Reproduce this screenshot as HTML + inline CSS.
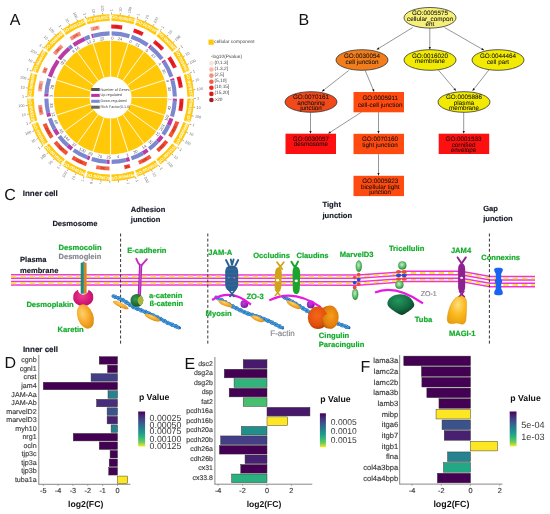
<!DOCTYPE html>
<html><head><meta charset="utf-8"><title>Figure</title><style>
*{margin:0;padding:0}
html,body{width:550px;height:514px;background:#fff;overflow:hidden}
svg{display:block}
text{font-family:"Liberation Sans",Arial,sans-serif;text-rendering:geometricPrecision}
.lab{font-size:16px;fill:#111}
.t3{font-size:4px}
.t3k{font-size:3.8px;fill:#707070}
.t3r{font-size:3.1px;fill:#a01818}
.t3n{font-size:4.2px;fill:#444}
.t3w{font-size:4.3px;fill:#fff;font-weight:bold}
.t4{font-size:3.7px}
.t45{font-size:4.8px}
.go{font-size:6.3px;fill:#111;stroke:#111;stroke-width:0.05px}
.hd{font-size:7.6px;font-weight:bold;fill:#161a26;stroke:#161a26;stroke-width:0.15px}
.gr{font-size:7.6px;font-weight:bold;fill:#14ac2c;stroke:#14ac2c;stroke-width:0.2px}
.gy{font-size:8px;fill:#85858f;stroke:#85858f;stroke-width:0.15px}
.gl{font-size:7px;fill:#3a3a3a;stroke:#3a3a3a;stroke-width:0.15px}
.ax{font-size:8.7px;font-weight:bold;fill:#111}
.lg{font-size:8.7px;fill:#3a3a3a}
</style></head>
<body><svg width="550" height="514" viewBox="0 0 550 514">
<defs><clipPath id="clipA"><rect x="0" y="0" width="275" height="184"/></clipPath></defs><g clip-path="url(#clipA)">
<circle cx="110.6" cy="97.6" r="56.8" fill="#ffc808"/>
<line x1="110.60" y1="76.60" x2="110.60" y2="40.30" stroke="#fff" stroke-width="0.9"/>
<line x1="117.09" y1="77.63" x2="128.31" y2="43.10" stroke="#fff" stroke-width="0.9"/>
<line x1="122.94" y1="80.61" x2="144.28" y2="51.24" stroke="#fff" stroke-width="0.9"/>
<line x1="127.59" y1="85.26" x2="156.96" y2="63.92" stroke="#fff" stroke-width="0.9"/>
<line x1="130.57" y1="91.11" x2="165.10" y2="79.89" stroke="#fff" stroke-width="0.9"/>
<line x1="131.60" y1="97.60" x2="167.90" y2="97.60" stroke="#fff" stroke-width="0.9"/>
<line x1="130.57" y1="104.09" x2="165.10" y2="115.31" stroke="#fff" stroke-width="0.9"/>
<line x1="127.59" y1="109.94" x2="156.96" y2="131.28" stroke="#fff" stroke-width="0.9"/>
<line x1="122.94" y1="114.59" x2="144.28" y2="143.96" stroke="#fff" stroke-width="0.9"/>
<line x1="117.09" y1="117.57" x2="128.31" y2="152.10" stroke="#fff" stroke-width="0.9"/>
<line x1="110.60" y1="118.60" x2="110.60" y2="154.90" stroke="#fff" stroke-width="0.9"/>
<line x1="104.11" y1="117.57" x2="92.89" y2="152.10" stroke="#fff" stroke-width="0.9"/>
<line x1="98.26" y1="114.59" x2="76.92" y2="143.96" stroke="#fff" stroke-width="0.9"/>
<line x1="93.61" y1="109.94" x2="64.24" y2="131.28" stroke="#fff" stroke-width="0.9"/>
<line x1="90.63" y1="104.09" x2="56.10" y2="115.31" stroke="#fff" stroke-width="0.9"/>
<line x1="89.60" y1="97.60" x2="53.30" y2="97.60" stroke="#fff" stroke-width="0.9"/>
<line x1="90.63" y1="91.11" x2="56.10" y2="79.89" stroke="#fff" stroke-width="0.9"/>
<line x1="93.61" y1="85.26" x2="64.24" y2="63.92" stroke="#fff" stroke-width="0.9"/>
<line x1="98.26" y1="80.61" x2="76.92" y2="51.24" stroke="#fff" stroke-width="0.9"/>
<line x1="104.11" y1="77.63" x2="92.89" y2="43.10" stroke="#fff" stroke-width="0.9"/>
<circle cx="110.6" cy="97.6" r="21.0" fill="#fff"/>
<path d="M111.47,14.20A83.4,83.4 0 0 1 135.54,18.02L133.57,24.31A76.8,76.8 0 0 0 111.40,20.80Z" fill="#ffc808"/>
<path d="M111.64,31.31A66.3,66.3 0 0 1 130.09,34.23L128.89,38.15A62.2,62.2 0 0 0 111.58,35.41Z" fill="#7b87cf"/>
<path d="M111.29,24.60A73.0,73.0 0 0 1 122.47,25.57L121.82,29.52A69.0,69.0 0 0 0 111.25,28.60Z" fill="#f01e26"/>
<text x="116.73" y="26.86" transform="rotate(5.0 116.73 26.86)" class="t3r" text-anchor="middle" dominant-baseline="central">286</text>
<text x="123.13" y="18.49" transform="rotate(9.0 123.13 18.49)" class="t3w" text-anchor="middle" dominant-baseline="central">GO:0005911</text>
<text x="112.38" y="38.13" transform="rotate(1.7 112.38 38.13)" class="t3" fill="#555" text-anchor="middle" dominant-baseline="central">0</text>
<text x="119.91" y="38.83" transform="rotate(9.0 119.91 38.83)" class="t3" fill="#555" text-anchor="middle" dominant-baseline="central">24</text>
<line x1="111.47" y1="14.20" x2="111.49" y2="12.40" stroke="#555" stroke-width="0.5"/>
<text x="111.50" y="11.20" transform="rotate(-89.4 111.50 11.20)" class="t3k" text-anchor="start" dominant-baseline="central">1</text>
<line x1="120.19" y1="14.75" x2="120.39" y2="12.96" stroke="#555" stroke-width="0.5"/>
<text x="120.53" y="11.77" transform="rotate(-83.4 120.53 11.77)" class="t3k" text-anchor="start" dominant-baseline="central">10</text>
<line x1="128.79" y1="16.21" x2="129.19" y2="14.45" stroke="#555" stroke-width="0.5"/>
<text x="129.45" y="13.28" transform="rotate(-77.4 129.45 13.28)" class="t3k" text-anchor="start" dominant-baseline="central">100</text>
<path d="M137.20,18.56A83.4,83.4 0 0 1 158.91,29.62L155.09,35.00A76.8,76.8 0 0 0 135.10,24.81Z" fill="#ffc808"/>
<path d="M132.08,34.87A66.3,66.3 0 0 1 148.72,43.36L146.37,46.71A62.2,62.2 0 0 0 130.75,38.75Z" fill="#7b87cf"/>
<path d="M134.25,28.54A73.0,73.0 0 0 1 143.74,32.56L141.93,36.12A69.0,69.0 0 0 0 132.95,32.32Z" fill="#f01e26"/>
<text x="138.28" y="32.22" transform="rotate(22.9 138.28 32.22)" class="t3r" text-anchor="middle" dominant-baseline="central">372</text>
<text x="146.96" y="26.23" transform="rotate(27.0 146.96 26.23)" class="t3w" text-anchor="middle" dominant-baseline="central">GO:0070160</text>
<text x="130.67" y="41.59" transform="rotate(19.7 130.67 41.59)" class="t3" fill="#555" text-anchor="middle" dominant-baseline="central">0</text>
<text x="137.61" y="44.59" transform="rotate(27.0 137.61 44.59)" class="t3" fill="#555" text-anchor="middle" dominant-baseline="central">21</text>
<line x1="137.20" y1="18.56" x2="137.78" y2="16.85" stroke="#555" stroke-width="0.5"/>
<text x="138.16" y="15.71" transform="rotate(-71.4 138.16 15.71)" class="t3k" text-anchor="start" dominant-baseline="central">1</text>
<line x1="145.32" y1="21.77" x2="146.07" y2="20.13" stroke="#555" stroke-width="0.5"/>
<text x="146.57" y="19.04" transform="rotate(-65.4 146.57 19.04)" class="t3k" text-anchor="start" dominant-baseline="central">10</text>
<line x1="153.05" y1="25.81" x2="153.97" y2="24.26" stroke="#555" stroke-width="0.5"/>
<text x="154.58" y="23.23" transform="rotate(-59.4 154.58 23.23)" class="t3k" text-anchor="start" dominant-baseline="central">100</text>
<path d="M160.33,30.65A83.4,83.4 0 0 1 177.55,47.87L172.26,51.81A76.8,76.8 0 0 0 156.39,35.94Z" fill="#ffc808"/>
<path d="M150.41,44.58A66.3,66.3 0 0 1 151.89,45.73L149.34,48.94A62.2,62.2 0 0 0 147.95,47.86Z" fill="#bb3aa4"/>
<path d="M151.89,45.73A66.3,66.3 0 0 1 163.62,57.79L160.34,60.25A62.2,62.2 0 0 0 149.34,48.94Z" fill="#7b87cf"/>
<path d="M155.34,39.92A73.0,73.0 0 0 1 164.13,47.96L161.19,50.68A69.0,69.0 0 0 0 152.89,43.08Z" fill="#f01e26"/>
<text x="158.55" y="45.24" transform="rotate(42.5 158.55 45.24)" class="t3r" text-anchor="middle" dominant-baseline="central">1032</text>
<text x="167.24" y="40.96" transform="rotate(45.0 167.24 40.96)" class="t3w" text-anchor="middle" dominant-baseline="central">GO:0005923</text>
<text x="146.99" y="50.53" transform="rotate(37.7 146.99 50.53)" class="t3" fill="#555" text-anchor="middle" dominant-baseline="central">5</text>
<text x="153.26" y="56.13" transform="rotate(45.8 153.26 56.13)" class="t3" fill="#555" text-anchor="middle" dominant-baseline="central">47</text>
<line x1="160.33" y1="30.65" x2="161.40" y2="29.20" stroke="#555" stroke-width="0.5"/>
<text x="162.11" y="28.24" transform="rotate(-53.4 162.11 28.24)" class="t3k" text-anchor="start" dominant-baseline="central">1</text>
<line x1="167.05" y1="36.21" x2="168.27" y2="34.88" stroke="#555" stroke-width="0.5"/>
<text x="169.08" y="34.00" transform="rotate(-47.4 169.08 34.00)" class="t3k" text-anchor="start" dominant-baseline="central">10</text>
<line x1="173.16" y1="42.45" x2="174.51" y2="41.26" stroke="#555" stroke-width="0.5"/>
<text x="175.41" y="40.46" transform="rotate(-41.4 175.41 40.46)" class="t3k" text-anchor="start" dominant-baseline="central">100</text>
<path d="M178.58,49.29A83.4,83.4 0 0 1 189.64,71.00L183.39,73.10A76.8,76.8 0 0 0 173.20,53.11Z" fill="#ffc808"/>
<path d="M164.84,59.48A66.3,66.3 0 0 1 165.90,61.03L162.48,63.29A62.2,62.2 0 0 0 161.49,61.83Z" fill="#bb3aa4"/>
<path d="M165.90,61.03A66.3,66.3 0 0 1 173.33,76.12L169.45,77.45A62.2,62.2 0 0 0 162.48,63.29Z" fill="#7b87cf"/>
<path d="M170.72,56.19A73.0,73.0 0 0 1 176.85,66.93L173.22,68.61A69.0,69.0 0 0 0 167.42,58.46Z" fill="#f01e26"/>
<text x="172.27" y="62.42" transform="rotate(60.3 172.27 62.42)" class="t3r" text-anchor="middle" dominant-baseline="central">334</text>
<text x="181.97" y="61.24" transform="rotate(63.0 181.97 61.24)" class="t3w" text-anchor="middle" dominant-baseline="central">GO:0030057</text>
<text x="159.76" y="64.08" transform="rotate(55.7 159.76 64.08)" class="t3" fill="#555" text-anchor="middle" dominant-baseline="central">4</text>
<text x="163.99" y="71.34" transform="rotate(63.8 163.99 71.34)" class="t3" fill="#555" text-anchor="middle" dominant-baseline="central">30</text>
<line x1="178.58" y1="49.29" x2="180.05" y2="48.25" stroke="#555" stroke-width="0.5"/>
<text x="181.03" y="47.55" transform="rotate(-35.4 181.03 47.55)" class="t3k" text-anchor="start" dominant-baseline="central">1</text>
<line x1="183.26" y1="56.66" x2="184.83" y2="55.78" stroke="#555" stroke-width="0.5"/>
<text x="185.87" y="55.19" transform="rotate(-29.4 185.87 55.19)" class="t3k" text-anchor="start" dominant-baseline="central">10</text>
<line x1="187.14" y1="64.48" x2="188.79" y2="63.76" stroke="#555" stroke-width="0.5"/>
<text x="189.89" y="63.29" transform="rotate(-23.4 189.89 63.29)" class="t3k" text-anchor="start" dominant-baseline="central">100</text>
<path d="M190.18,72.66A83.4,83.4 0 0 1 194.00,96.73L187.40,96.80A76.8,76.8 0 0 0 183.89,74.63Z" fill="#ffc808"/>
<path d="M173.97,78.11A66.3,66.3 0 0 1 174.49,79.90L170.54,81.00A62.2,62.2 0 0 0 170.05,79.31Z" fill="#bb3aa4"/>
<path d="M174.49,79.90A66.3,66.3 0 0 1 176.89,96.56L172.79,96.62A62.2,62.2 0 0 0 170.54,81.00Z" fill="#7b87cf"/>
<path d="M180.37,76.14A73.0,73.0 0 0 1 182.87,87.31L178.91,87.88A69.0,69.0 0 0 0 176.55,77.31Z" fill="#f01e26"/>
<text x="179.89" y="82.11" transform="rotate(77.4 179.89 82.11)" class="t3r" text-anchor="middle" dominant-baseline="central">255</text>
<text x="189.71" y="85.07" transform="rotate(81.0 189.71 85.07)" class="t3w" text-anchor="middle" dominant-baseline="central">GO:0070161</text>
<text x="167.71" y="80.91" transform="rotate(73.7 167.71 80.91)" class="t3" fill="#555" text-anchor="middle" dominant-baseline="central">4</text>
<text x="169.49" y="89.12" transform="rotate(81.8 169.49 89.12)" class="t3" fill="#555" text-anchor="middle" dominant-baseline="central">30</text>
<line x1="190.18" y1="72.66" x2="191.90" y2="72.12" stroke="#555" stroke-width="0.5"/>
<text x="193.05" y="71.76" transform="rotate(-17.4 193.05 71.76)" class="t3k" text-anchor="start" dominant-baseline="central">1</text>
<line x1="192.35" y1="81.12" x2="194.12" y2="80.76" stroke="#555" stroke-width="0.5"/>
<text x="195.30" y="80.52" transform="rotate(-11.4 195.30 80.52)" class="t3k" text-anchor="start" dominant-baseline="central">10</text>
<line x1="193.63" y1="89.75" x2="195.42" y2="89.58" stroke="#555" stroke-width="0.5"/>
<text x="196.62" y="89.47" transform="rotate(-5.4 196.62 89.47)" class="t3k" text-anchor="start" dominant-baseline="central">100</text>
<path d="M194.00,98.47A83.4,83.4 0 0 1 190.18,122.54L183.89,120.57A76.8,76.8 0 0 0 187.40,98.40Z" fill="#ffc808"/>
<path d="M176.89,98.64A66.3,66.3 0 0 1 176.82,100.89L172.72,100.69A62.2,62.2 0 0 0 172.79,98.58Z" fill="#bb3aa4"/>
<path d="M176.82,100.89A66.3,66.3 0 0 1 173.97,117.09L170.05,115.89A62.2,62.2 0 0 0 172.72,100.69Z" fill="#7b87cf"/>
<path d="M183.59,98.75A73.0,73.0 0 0 1 182.31,111.28L178.38,110.53A69.0,69.0 0 0 0 179.59,98.68Z" fill="#f01e26"/>
<text x="181.23" y="104.84" transform="rotate(275.9 181.23 104.84)" class="t3r" text-anchor="middle" dominant-baseline="central">315</text>
<text x="189.71" y="110.13" transform="rotate(279.0 189.71 110.13)" class="t3w" text-anchor="middle" dominant-baseline="central">GO:0030054</text>
<text x="170.07" y="99.38" transform="rotate(271.7 170.07 99.38)" class="t3" fill="#555" text-anchor="middle" dominant-baseline="central">7</text>
<text x="169.20" y="107.90" transform="rotate(280.0 169.20 107.90)" class="t3" fill="#555" text-anchor="middle" dominant-baseline="central">42</text>
<line x1="194.00" y1="98.47" x2="195.80" y2="98.49" stroke="#555" stroke-width="0.5"/>
<text x="197.00" y="98.50" transform="rotate(0.6 197.00 98.50)" class="t3k" text-anchor="start" dominant-baseline="central">1</text>
<line x1="193.45" y1="107.19" x2="195.24" y2="107.39" stroke="#555" stroke-width="0.5"/>
<text x="196.43" y="107.53" transform="rotate(6.6 196.43 107.53)" class="t3k" text-anchor="start" dominant-baseline="central">10</text>
<line x1="191.99" y1="115.79" x2="193.75" y2="116.19" stroke="#555" stroke-width="0.5"/>
<text x="194.92" y="116.45" transform="rotate(12.6 194.92 116.45)" class="t3k" text-anchor="start" dominant-baseline="central">100</text>
<path d="M189.64,124.20A83.4,83.4 0 0 1 178.58,145.91L173.20,142.09A76.8,76.8 0 0 0 183.39,122.10Z" fill="#ffc808"/>
<path d="M173.33,119.08A66.3,66.3 0 0 1 170.50,126.02L166.80,124.26A62.2,62.2 0 0 0 169.45,117.75Z" fill="#bb3aa4"/>
<path d="M170.50,126.02A66.3,66.3 0 0 1 164.84,135.72L161.49,133.37A62.2,62.2 0 0 0 166.80,124.26Z" fill="#7b87cf"/>
<path d="M179.28,122.33A73.0,73.0 0 0 1 171.61,137.68L168.27,135.48A69.0,69.0 0 0 0 175.52,120.97Z" fill="#f25436"/>
<text x="174.11" y="129.34" transform="rotate(296.6 174.11 129.34)" class="t3r" text-anchor="middle" dominant-baseline="central">4526</text>
<text x="181.97" y="133.96" transform="rotate(297.0 181.97 133.96)" class="t3w" text-anchor="middle" dominant-baseline="central">GO:0005886</text>
<text x="166.61" y="117.67" transform="rotate(289.7 166.61 117.67)" class="t3" fill="#555" text-anchor="middle" dominant-baseline="central">102</text>
<text x="162.00" y="127.57" transform="rotate(300.2 162.00 127.57)" class="t3" fill="#555" text-anchor="middle" dominant-baseline="central">203</text>
<line x1="189.64" y1="124.20" x2="191.35" y2="124.78" stroke="#555" stroke-width="0.5"/>
<text x="192.49" y="125.16" transform="rotate(18.6 192.49 125.16)" class="t3k" text-anchor="start" dominant-baseline="central">1</text>
<line x1="186.43" y1="132.32" x2="188.07" y2="133.07" stroke="#555" stroke-width="0.5"/>
<text x="189.16" y="133.57" transform="rotate(24.6 189.16 133.57)" class="t3k" text-anchor="start" dominant-baseline="central">10</text>
<line x1="182.39" y1="140.05" x2="183.94" y2="140.97" stroke="#555" stroke-width="0.5"/>
<text x="184.97" y="141.58" transform="rotate(30.6 184.97 141.58)" class="t3k" text-anchor="start" dominant-baseline="central">100</text>
<path d="M177.55,147.33A83.4,83.4 0 0 1 160.33,164.55L156.39,159.26A76.8,76.8 0 0 0 172.26,143.39Z" fill="#ffc808"/>
<path d="M163.62,137.41A66.3,66.3 0 0 1 159.04,142.86L156.05,140.06A62.2,62.2 0 0 0 160.34,134.95Z" fill="#bb3aa4"/>
<path d="M159.04,142.86A66.3,66.3 0 0 1 150.41,150.62L147.95,147.34A62.2,62.2 0 0 0 156.05,140.06Z" fill="#7b87cf"/>
<path d="M168.28,142.34A73.0,73.0 0 0 1 158.88,152.36L156.23,149.36A69.0,69.0 0 0 0 165.12,139.89Z" fill="#f04a30"/>
<text x="162.36" y="146.20" transform="rotate(313.2 162.36 146.20)" class="t3r" text-anchor="middle" dominant-baseline="central">812</text>
<text x="167.24" y="154.24" transform="rotate(315.0 167.24 154.24)" class="t3w" text-anchor="middle" dominant-baseline="central">GO:0001533</text>
<text x="157.67" y="133.99" transform="rotate(307.7 157.67 133.99)" class="t3" fill="#555" text-anchor="middle" dominant-baseline="central">15</text>
<text x="150.35" y="141.87" transform="rotate(318.1 150.35 141.87)" class="t3" fill="#555" text-anchor="middle" dominant-baseline="central">15</text>
<line x1="177.55" y1="147.33" x2="179.00" y2="148.40" stroke="#555" stroke-width="0.5"/>
<text x="179.96" y="149.11" transform="rotate(36.6 179.96 149.11)" class="t3k" text-anchor="start" dominant-baseline="central">1</text>
<line x1="171.99" y1="154.05" x2="173.32" y2="155.27" stroke="#555" stroke-width="0.5"/>
<text x="174.20" y="156.08" transform="rotate(42.6 174.20 156.08)" class="t3k" text-anchor="start" dominant-baseline="central">10</text>
<line x1="165.75" y1="160.16" x2="166.94" y2="161.51" stroke="#555" stroke-width="0.5"/>
<text x="167.74" y="162.41" transform="rotate(48.6 167.74 162.41)" class="t3k" text-anchor="start" dominant-baseline="central">100</text>
<path d="M158.91,165.58A83.4,83.4 0 0 1 137.20,176.64L135.10,170.39A76.8,76.8 0 0 0 155.09,160.20Z" fill="#ffc808"/>
<path d="M148.72,151.84A66.3,66.3 0 0 1 143.99,154.88L141.93,151.34A62.2,62.2 0 0 0 146.37,148.49Z" fill="#bb3aa4"/>
<path d="M143.99,154.88A66.3,66.3 0 0 1 132.08,160.33L130.75,156.45A62.2,62.2 0 0 0 141.93,151.34Z" fill="#7b87cf"/>
<path d="M151.63,157.98A73.0,73.0 0 0 1 139.59,164.60L138.00,160.93A69.0,69.0 0 0 0 149.38,154.67Z" fill="#f25a3c"/>
<text x="144.80" y="159.82" transform="rotate(331.2 144.80 159.82)" class="t3r" text-anchor="middle" dominant-baseline="central">645</text>
<text x="146.96" y="168.97" transform="rotate(333.0 146.96 168.97)" class="t3w" text-anchor="middle" dominant-baseline="central">GO:0016020</text>
<text x="144.12" y="146.76" transform="rotate(325.7 144.12 146.76)" class="t3" fill="#555" text-anchor="middle" dominant-baseline="central">14</text>
<text x="135.34" y="151.71" transform="rotate(335.4 135.34 151.71)" class="t3" fill="#555" text-anchor="middle" dominant-baseline="central">30</text>
<line x1="158.91" y1="165.58" x2="159.95" y2="167.05" stroke="#555" stroke-width="0.5"/>
<text x="160.65" y="168.03" transform="rotate(54.6 160.65 168.03)" class="t3k" text-anchor="start" dominant-baseline="central">1</text>
<line x1="151.54" y1="170.26" x2="152.42" y2="171.83" stroke="#555" stroke-width="0.5"/>
<text x="153.01" y="172.87" transform="rotate(60.6 153.01 172.87)" class="t3k" text-anchor="start" dominant-baseline="central">10</text>
<line x1="143.72" y1="174.14" x2="144.44" y2="175.79" stroke="#555" stroke-width="0.5"/>
<text x="144.91" y="176.89" transform="rotate(66.6 144.91 176.89)" class="t3k" text-anchor="start" dominant-baseline="central">100</text>
<path d="M135.54,177.18A83.4,83.4 0 0 1 111.47,181.00L111.40,174.40A76.8,76.8 0 0 0 133.57,170.89Z" fill="#ffc808"/>
<path d="M130.09,160.97A66.3,66.3 0 0 1 126.48,161.97L125.50,157.99A62.2,62.2 0 0 0 128.89,157.05Z" fill="#bb3aa4"/>
<path d="M126.48,161.97A66.3,66.3 0 0 1 111.64,163.89L111.58,159.79A62.2,62.2 0 0 0 125.50,157.99Z" fill="#7b87cf"/>
<path d="M130.53,167.83A73.0,73.0 0 0 1 124.73,169.22L123.95,165.30A69.0,69.0 0 0 0 129.43,163.98Z" fill="#ef4a3a"/>
<text x="127.17" y="166.64" transform="rotate(346.5 127.17 166.64)" class="t3r" text-anchor="middle" dominant-baseline="central">16</text>
<text x="123.13" y="176.71" transform="rotate(351.0 123.13 176.71)" class="t3w" text-anchor="middle" dominant-baseline="central">GO:0044464</text>
<text x="127.29" y="154.71" transform="rotate(343.7 127.29 154.71)" class="t3" fill="#555" text-anchor="middle" dominant-baseline="central">1</text>
<text x="118.24" y="156.61" transform="rotate(352.6 118.24 156.61)" class="t3" fill="#555" text-anchor="middle" dominant-baseline="central">4</text>
<line x1="135.54" y1="177.18" x2="136.08" y2="178.90" stroke="#555" stroke-width="0.5"/>
<text x="136.44" y="180.05" transform="rotate(72.6 136.44 180.05)" class="t3k" text-anchor="start" dominant-baseline="central">1</text>
<line x1="127.08" y1="179.35" x2="127.44" y2="181.12" stroke="#555" stroke-width="0.5"/>
<text x="127.68" y="182.30" transform="rotate(78.6 127.68 182.30)" class="t3k" text-anchor="start" dominant-baseline="central">10</text>
<line x1="118.45" y1="180.63" x2="118.62" y2="182.42" stroke="#555" stroke-width="0.5"/>
<text x="118.73" y="183.62" transform="rotate(84.6 118.73 183.62)" class="t3k" text-anchor="start" dominant-baseline="central">100</text>
<path d="M109.73,181.00A83.4,83.4 0 0 1 85.66,177.18L87.63,170.89A76.8,76.8 0 0 0 109.80,174.40Z" fill="#ffc808"/>
<path d="M109.56,163.89A66.3,66.3 0 0 1 106.75,163.79L106.99,159.69A62.2,62.2 0 0 0 109.62,159.79Z" fill="#bb3aa4"/>
<path d="M106.75,163.79A66.3,66.3 0 0 1 91.11,160.97L92.31,157.05A62.2,62.2 0 0 0 106.99,159.69Z" fill="#7b87cf"/>
<path d="M109.45,170.59A73.0,73.0 0 0 1 95.80,169.08L96.61,165.17A69.0,69.0 0 0 0 109.52,166.59Z" fill="#f46a4c"/>
<text x="102.81" y="168.17" transform="rotate(366.3 102.81 168.17)" class="t3r" text-anchor="middle" dominant-baseline="central">390</text>
<text x="98.07" y="176.71" transform="rotate(369.0 98.07 176.71)" class="t3w" text-anchor="middle" dominant-baseline="central">GO:0005575</text>
<text x="108.82" y="157.07" transform="rotate(361.7 108.82 157.07)" class="t3" fill="#555" text-anchor="middle" dominant-baseline="central">25</text>
<text x="100.05" y="156.16" transform="rotate(370.2 100.05 156.16)" class="t3" fill="#555" text-anchor="middle" dominant-baseline="central">70</text>
<line x1="109.73" y1="181.00" x2="109.71" y2="182.80" stroke="#555" stroke-width="0.5"/>
<text x="109.70" y="184.00" transform="rotate(270.6 109.70 184.00)" class="t3k" text-anchor="end" dominant-baseline="central">1</text>
<line x1="101.01" y1="180.45" x2="100.81" y2="182.24" stroke="#555" stroke-width="0.5"/>
<text x="100.67" y="183.43" transform="rotate(276.6 100.67 183.43)" class="t3k" text-anchor="end" dominant-baseline="central">10</text>
<line x1="92.41" y1="178.99" x2="92.01" y2="180.75" stroke="#555" stroke-width="0.5"/>
<text x="91.75" y="181.92" transform="rotate(282.6 91.75 181.92)" class="t3k" text-anchor="end" dominant-baseline="central">100</text>
<path d="M84.00,176.64A83.4,83.4 0 0 1 62.29,165.58L66.11,160.20A76.8,76.8 0 0 0 86.10,170.39Z" fill="#ffc808"/>
<path d="M89.12,160.33A66.3,66.3 0 0 1 86.48,159.36L87.98,155.54A62.2,62.2 0 0 0 90.45,156.45Z" fill="#bb3aa4"/>
<path d="M86.48,159.36A66.3,66.3 0 0 1 72.48,151.84L74.83,148.49A62.2,62.2 0 0 0 87.98,155.54Z" fill="#7b87cf"/>
<path d="M85.87,166.28A73.0,73.0 0 0 1 71.48,159.24L73.63,155.86A69.0,69.0 0 0 0 87.23,162.52Z" fill="#f25436"/>
<text x="79.36" y="161.36" transform="rotate(386.1 79.36 161.36)" class="t3r" text-anchor="middle" dominant-baseline="central">1533</text>
<text x="74.24" y="168.97" transform="rotate(387.0 74.24 168.97)" class="t3w" text-anchor="middle" dominant-baseline="central">GO:0043296</text>
<text x="90.53" y="153.61" transform="rotate(379.7 90.53 153.61)" class="t3" fill="#555" text-anchor="middle" dominant-baseline="central">29</text>
<text x="82.47" y="150.03" transform="rotate(388.2 82.47 150.03)" class="t3" fill="#555" text-anchor="middle" dominant-baseline="central">120</text>
<line x1="84.00" y1="176.64" x2="83.42" y2="178.35" stroke="#555" stroke-width="0.5"/>
<text x="83.04" y="179.49" transform="rotate(288.6 83.04 179.49)" class="t3k" text-anchor="end" dominant-baseline="central">1</text>
<line x1="75.88" y1="173.43" x2="75.13" y2="175.07" stroke="#555" stroke-width="0.5"/>
<text x="74.63" y="176.16" transform="rotate(294.6 74.63 176.16)" class="t3k" text-anchor="end" dominant-baseline="central">10</text>
<line x1="68.15" y1="169.39" x2="67.23" y2="170.94" stroke="#555" stroke-width="0.5"/>
<text x="66.62" y="171.97" transform="rotate(300.6 66.62 171.97)" class="t3k" text-anchor="end" dominant-baseline="central">100</text>
<path d="M60.87,164.55A83.4,83.4 0 0 1 43.65,147.33L48.94,143.39A76.8,76.8 0 0 0 64.81,159.26Z" fill="#ffc808"/>
<path d="M70.79,150.62A66.3,66.3 0 0 1 66.44,147.06L69.17,144.00A62.2,62.2 0 0 0 73.25,147.34Z" fill="#bb3aa4"/>
<path d="M66.44,147.06A66.3,66.3 0 0 1 57.58,137.41L60.86,134.95A62.2,62.2 0 0 0 69.17,144.00Z" fill="#7b87cf"/>
<path d="M65.86,155.28A73.0,73.0 0 0 1 53.63,143.24L56.75,140.74A69.0,69.0 0 0 0 68.31,152.12Z" fill="#f25436"/>
<text x="60.79" y="148.20" transform="rotate(404.6 60.79 148.20)" class="t3r" text-anchor="middle" dominant-baseline="central">2687</text>
<text x="53.96" y="154.24" transform="rotate(405.0 53.96 154.24)" class="t3w" text-anchor="middle" dominant-baseline="central">GO:0016327</text>
<text x="74.21" y="144.67" transform="rotate(397.7 74.21 144.67)" class="t3" fill="#555" text-anchor="middle" dominant-baseline="central">37</text>
<text x="66.78" y="137.85" transform="rotate(407.4 66.78 137.85)" class="t3" fill="#555" text-anchor="middle" dominant-baseline="central">144</text>
<line x1="60.87" y1="164.55" x2="59.80" y2="166.00" stroke="#555" stroke-width="0.5"/>
<text x="59.09" y="166.96" transform="rotate(306.6 59.09 166.96)" class="t3k" text-anchor="end" dominant-baseline="central">1</text>
<line x1="54.15" y1="158.99" x2="52.93" y2="160.32" stroke="#555" stroke-width="0.5"/>
<text x="52.12" y="161.20" transform="rotate(312.6 52.12 161.20)" class="t3k" text-anchor="end" dominant-baseline="central">10</text>
<line x1="48.04" y1="152.75" x2="46.69" y2="153.94" stroke="#555" stroke-width="0.5"/>
<text x="45.79" y="154.74" transform="rotate(318.6 45.79 154.74)" class="t3k" text-anchor="end" dominant-baseline="central">100</text>
<path d="M42.62,145.91A83.4,83.4 0 0 1 31.56,124.20L37.81,122.10A76.8,76.8 0 0 0 48.00,142.09Z" fill="#ffc808"/>
<path d="M56.36,135.72A66.3,66.3 0 0 1 52.86,130.18L56.43,128.16A62.2,62.2 0 0 0 59.71,133.37Z" fill="#bb3aa4"/>
<path d="M52.86,130.18A66.3,66.3 0 0 1 47.87,119.08L51.75,117.75A62.2,62.2 0 0 0 56.43,128.16Z" fill="#7b87cf"/>
<path d="M50.22,138.63A73.0,73.0 0 0 1 42.73,124.47L46.45,123.00A69.0,69.0 0 0 0 53.53,136.38Z" fill="#f25436"/>
<text x="47.85" y="130.82" transform="rotate(422.1 47.85 130.82)" class="t3r" text-anchor="middle" dominant-baseline="central">1478</text>
<text x="39.23" y="133.96" transform="rotate(423.0 39.23 133.96)" class="t3w" text-anchor="middle" dominant-baseline="central">GO:0005912</text>
<text x="61.44" y="131.12" transform="rotate(415.7 61.44 131.12)" class="t3" fill="#555" text-anchor="middle" dominant-baseline="central">45</text>
<text x="56.31" y="121.96" transform="rotate(425.8 56.31 121.96)" class="t3" fill="#555" text-anchor="middle" dominant-baseline="central">60</text>
<line x1="42.62" y1="145.91" x2="41.15" y2="146.95" stroke="#555" stroke-width="0.5"/>
<text x="40.17" y="147.65" transform="rotate(324.6 40.17 147.65)" class="t3k" text-anchor="end" dominant-baseline="central">1</text>
<line x1="37.94" y1="138.54" x2="36.37" y2="139.42" stroke="#555" stroke-width="0.5"/>
<text x="35.33" y="140.01" transform="rotate(330.6 35.33 140.01)" class="t3k" text-anchor="end" dominant-baseline="central">10</text>
<line x1="34.06" y1="130.72" x2="32.41" y2="131.44" stroke="#555" stroke-width="0.5"/>
<text x="31.31" y="131.91" transform="rotate(336.6 31.31 131.91)" class="t3k" text-anchor="end" dominant-baseline="central">100</text>
<path d="M31.02,122.54A83.4,83.4 0 0 1 27.20,98.47L33.80,98.40A76.8,76.8 0 0 0 37.31,120.57Z" fill="#ffc808"/>
<path d="M47.23,117.09A66.3,66.3 0 0 1 46.23,113.48L50.21,112.50A62.2,62.2 0 0 0 51.15,115.89Z" fill="#bb3aa4"/>
<path d="M46.23,113.48A66.3,66.3 0 0 1 44.31,98.64L48.41,98.58A62.2,62.2 0 0 0 50.21,112.50Z" fill="#7b87cf"/>
<path d="M39.78,115.31A73.0,73.0 0 0 1 37.99,105.15L41.97,104.74A69.0,69.0 0 0 0 43.66,114.34Z" fill="#f58d78"/>
<text x="40.68" y="109.92" transform="rotate(440.0 40.68 109.92)" class="t3r" text-anchor="middle" dominant-baseline="central">802</text>
<text x="31.49" y="110.13" transform="rotate(441.0 31.49 110.13)" class="t3w" text-anchor="middle" dominant-baseline="central">GO:0043235</text>
<text x="53.49" y="114.29" transform="rotate(433.7 53.49 114.29)" class="t3" fill="#555" text-anchor="middle" dominant-baseline="central">12</text>
<text x="51.59" y="105.24" transform="rotate(442.6 51.59 105.24)" class="t3" fill="#555" text-anchor="middle" dominant-baseline="central">33</text>
<line x1="31.02" y1="122.54" x2="29.30" y2="123.08" stroke="#555" stroke-width="0.5"/>
<text x="28.15" y="123.44" transform="rotate(342.6 28.15 123.44)" class="t3k" text-anchor="end" dominant-baseline="central">1</text>
<line x1="28.85" y1="114.08" x2="27.08" y2="114.44" stroke="#555" stroke-width="0.5"/>
<text x="25.90" y="114.68" transform="rotate(348.6 25.90 114.68)" class="t3k" text-anchor="end" dominant-baseline="central">10</text>
<line x1="27.57" y1="105.45" x2="25.78" y2="105.62" stroke="#555" stroke-width="0.5"/>
<text x="24.58" y="105.73" transform="rotate(354.6 24.58 105.73)" class="t3k" text-anchor="end" dominant-baseline="central">100</text>
<path d="M27.20,96.73A83.4,83.4 0 0 1 31.02,72.66L37.31,74.63A76.8,76.8 0 0 0 33.80,96.80Z" fill="#ffc808"/>
<path d="M44.31,96.56A66.3,66.3 0 0 1 44.41,93.75L48.51,93.99A62.2,62.2 0 0 0 48.41,96.62Z" fill="#bb3aa4"/>
<path d="M44.41,93.75A66.3,66.3 0 0 1 47.23,78.11L51.15,79.31A62.2,62.2 0 0 0 48.51,93.99Z" fill="#7b87cf"/>
<path d="M37.88,91.19A73.0,73.0 0 0 1 39.62,80.56L43.51,81.49A69.0,69.0 0 0 0 41.87,91.54Z" fill="#f8ab98"/>
<text x="40.53" y="86.16" transform="rotate(279.3 40.53 86.16)" class="t3r" text-anchor="middle" dominant-baseline="central">802</text>
<text x="31.49" y="85.07" transform="rotate(279.0 31.49 85.07)" class="t3w" text-anchor="middle" dominant-baseline="central">GO:0098590</text>
<text x="51.13" y="95.82" transform="rotate(271.7 51.13 95.82)" class="t3" fill="#555" text-anchor="middle" dominant-baseline="central">3</text>
<text x="52.04" y="87.05" transform="rotate(280.2 52.04 87.05)" class="t3" fill="#555" text-anchor="middle" dominant-baseline="central">28</text>
<line x1="27.20" y1="96.73" x2="25.40" y2="96.71" stroke="#555" stroke-width="0.5"/>
<text x="24.20" y="96.70" transform="rotate(360.6 24.20 96.70)" class="t3k" text-anchor="end" dominant-baseline="central">1</text>
<line x1="27.75" y1="88.01" x2="25.96" y2="87.81" stroke="#555" stroke-width="0.5"/>
<text x="24.77" y="87.67" transform="rotate(366.6 24.77 87.67)" class="t3k" text-anchor="end" dominant-baseline="central">10</text>
<line x1="29.21" y1="79.41" x2="27.45" y2="79.01" stroke="#555" stroke-width="0.5"/>
<text x="26.28" y="78.75" transform="rotate(372.6 26.28 78.75)" class="t3k" text-anchor="end" dominant-baseline="central">100</text>
<path d="M31.56,71.00A83.4,83.4 0 0 1 42.62,49.29L48.00,53.11A76.8,76.8 0 0 0 37.81,73.10Z" fill="#ffc808"/>
<path d="M47.87,76.12A66.3,66.3 0 0 1 56.36,59.48L59.71,61.83A62.2,62.2 0 0 0 51.75,77.45Z" fill="#bb3aa4"/>
<path d="M42.07,72.44A73.0,73.0 0 0 1 44.35,66.93L47.98,68.61A69.0,69.0 0 0 0 45.83,73.82Z" fill="#f58d78"/>
<text x="45.00" y="70.43" transform="rotate(292.5 45.00 70.43)" class="t3r" text-anchor="middle" dominant-baseline="central">15</text>
<text x="39.23" y="61.24" transform="rotate(297.0 39.23 61.24)" class="t3w" text-anchor="middle" dominant-baseline="central">GO:0044459</text>
<text x="54.59" y="77.53" transform="rotate(289.7 54.59 77.53)" class="t3" fill="#555" text-anchor="middle" dominant-baseline="central">7</text>
<text x="61.92" y="63.39" transform="rotate(305.1 61.92 63.39)" class="t3" fill="#555" text-anchor="middle" dominant-baseline="central">0</text>
<line x1="31.56" y1="71.00" x2="29.85" y2="70.42" stroke="#555" stroke-width="0.5"/>
<text x="28.71" y="70.04" transform="rotate(378.6 28.71 70.04)" class="t3k" text-anchor="end" dominant-baseline="central">1</text>
<line x1="34.77" y1="62.88" x2="33.13" y2="62.13" stroke="#555" stroke-width="0.5"/>
<text x="32.04" y="61.63" transform="rotate(384.6 32.04 61.63)" class="t3k" text-anchor="end" dominant-baseline="central">10</text>
<line x1="38.81" y1="55.15" x2="37.26" y2="54.23" stroke="#555" stroke-width="0.5"/>
<text x="36.23" y="53.62" transform="rotate(390.6 36.23 53.62)" class="t3k" text-anchor="end" dominant-baseline="central">100</text>
<path d="M43.65,47.87A83.4,83.4 0 0 1 60.87,30.65L64.81,35.94A76.8,76.8 0 0 0 48.94,51.81Z" fill="#ffc808"/>
<path d="M57.58,57.79A66.3,66.3 0 0 1 67.86,46.92L70.50,50.05A62.2,62.2 0 0 0 60.86,60.25Z" fill="#bb3aa4"/>
<path d="M67.86,46.92A66.3,66.3 0 0 1 70.79,44.58L73.25,47.86A62.2,62.2 0 0 0 70.50,50.05Z" fill="#7b87cf"/>
<path d="M52.92,52.86A73.0,73.0 0 0 1 60.63,44.39L63.37,47.30A69.0,69.0 0 0 0 56.08,55.31Z" fill="#f58d78"/>
<text x="58.09" y="49.82" transform="rotate(312.3 58.09 49.82)" class="t3r" text-anchor="middle" dominant-baseline="central">286</text>
<text x="53.96" y="40.96" transform="rotate(315.0 53.96 40.96)" class="t3w" text-anchor="middle" dominant-baseline="central">GO:0098862</text>
<text x="63.53" y="61.21" transform="rotate(307.7 63.53 61.21)" class="t3" fill="#555" text-anchor="middle" dominant-baseline="central">23</text>
<text x="73.54" y="51.05" transform="rotate(321.5 73.54 51.05)" class="t3" fill="#555" text-anchor="middle" dominant-baseline="central">8</text>
<line x1="43.65" y1="47.87" x2="42.20" y2="46.80" stroke="#555" stroke-width="0.5"/>
<text x="41.24" y="46.09" transform="rotate(396.6 41.24 46.09)" class="t3k" text-anchor="end" dominant-baseline="central">1</text>
<line x1="49.21" y1="41.15" x2="47.88" y2="39.93" stroke="#555" stroke-width="0.5"/>
<text x="47.00" y="39.12" transform="rotate(402.6 47.00 39.12)" class="t3k" text-anchor="end" dominant-baseline="central">10</text>
<line x1="55.45" y1="35.04" x2="54.26" y2="33.69" stroke="#555" stroke-width="0.5"/>
<text x="53.46" y="32.79" transform="rotate(408.6 53.46 32.79)" class="t3k" text-anchor="end" dominant-baseline="central">100</text>
<path d="M62.29,29.62A83.4,83.4 0 0 1 84.00,18.56L86.10,24.81A76.8,76.8 0 0 0 66.11,35.00Z" fill="#ffc808"/>
<path d="M72.48,43.36A66.3,66.3 0 0 1 83.89,36.92L85.54,40.67A62.2,62.2 0 0 0 74.83,46.71Z" fill="#bb3aa4"/>
<path d="M83.89,36.92A66.3,66.3 0 0 1 89.12,34.87L90.45,38.75A62.2,62.2 0 0 0 85.54,40.67Z" fill="#7b87cf"/>
<path d="M69.57,37.22A73.0,73.0 0 0 1 79.52,31.55L81.22,35.17A69.0,69.0 0 0 0 71.82,40.53Z" fill="#f58d78"/>
<text x="75.42" y="35.93" transform="rotate(330.3 75.42 35.93)" class="t3r" text-anchor="middle" dominant-baseline="central">276</text>
<text x="74.24" y="26.23" transform="rotate(333.0 74.24 26.23)" class="t3w" text-anchor="middle" dominant-baseline="central">GO:0031252</text>
<text x="77.08" y="48.44" transform="rotate(325.7 77.08 48.44)" class="t3" fill="#555" text-anchor="middle" dominant-baseline="central">16</text>
<text x="88.96" y="42.18" transform="rotate(338.7 88.96 42.18)" class="t3" fill="#555" text-anchor="middle" dominant-baseline="central">12</text>
<line x1="62.29" y1="29.62" x2="61.25" y2="28.15" stroke="#555" stroke-width="0.5"/>
<text x="60.55" y="27.17" transform="rotate(414.6 60.55 27.17)" class="t3k" text-anchor="end" dominant-baseline="central">1</text>
<line x1="69.66" y1="24.94" x2="68.78" y2="23.37" stroke="#555" stroke-width="0.5"/>
<text x="68.19" y="22.33" transform="rotate(420.6 68.19 22.33)" class="t3k" text-anchor="end" dominant-baseline="central">10</text>
<line x1="77.48" y1="21.06" x2="76.76" y2="19.41" stroke="#555" stroke-width="0.5"/>
<text x="76.29" y="18.31" transform="rotate(426.6 76.29 18.31)" class="t3k" text-anchor="end" dominant-baseline="central">100</text>
<path d="M85.66,18.02A83.4,83.4 0 0 1 109.73,14.20L109.80,20.80A76.8,76.8 0 0 0 87.63,24.31Z" fill="#ffc808"/>
<path d="M91.11,34.23A66.3,66.3 0 0 1 92.90,33.71L94.00,37.66A62.2,62.2 0 0 0 92.31,38.15Z" fill="#bb3aa4"/>
<path d="M92.90,33.71A66.3,66.3 0 0 1 109.56,31.31L109.62,35.41A62.2,62.2 0 0 0 94.00,37.66Z" fill="#7b87cf"/>
<path d="M90.23,27.50A73.0,73.0 0 0 1 99.18,25.50L99.81,29.45A69.0,69.0 0 0 0 91.35,31.34Z" fill="#f8ab98"/>
<text x="95.11" y="28.31" transform="rotate(347.4 95.11 28.31)" class="t3r" text-anchor="middle" dominant-baseline="central">129</text>
<text x="98.07" y="18.49" transform="rotate(351.0 98.07 18.49)" class="t3w" text-anchor="middle" dominant-baseline="central">GO:0016021</text>
<text x="93.91" y="40.49" transform="rotate(343.7 93.91 40.49)" class="t3" fill="#555" text-anchor="middle" dominant-baseline="central">2</text>
<text x="102.12" y="38.71" transform="rotate(351.8 102.12 38.71)" class="t3" fill="#555" text-anchor="middle" dominant-baseline="central">22</text>
<line x1="85.66" y1="18.02" x2="85.12" y2="16.30" stroke="#555" stroke-width="0.5"/>
<text x="84.76" y="15.15" transform="rotate(432.6 84.76 15.15)" class="t3k" text-anchor="end" dominant-baseline="central">1</text>
<line x1="94.12" y1="15.85" x2="93.76" y2="14.08" stroke="#555" stroke-width="0.5"/>
<text x="93.52" y="12.90" transform="rotate(438.6 93.52 12.90)" class="t3k" text-anchor="end" dominant-baseline="central">10</text>
<line x1="102.75" y1="14.57" x2="102.58" y2="12.78" stroke="#555" stroke-width="0.5"/>
<text x="102.47" y="11.58" transform="rotate(444.6 102.47 11.58)" class="t3k" text-anchor="end" dominant-baseline="central">100</text>
<rect x="91.2" y="88.0" width="8.5" height="3" fill="#555"/>
<text x="100.6" y="89.5" class="t4" fill="#444" dominant-baseline="central">Number of Genes</text>
<rect x="91.2" y="93.9" width="8.5" height="3" fill="#c0309e"/>
<text x="100.6" y="95.4" class="t4" fill="#444" dominant-baseline="central">Up-regulated</text>
<rect x="91.2" y="99.8" width="8.5" height="3" fill="#7c88cf"/>
<text x="100.6" y="101.3" class="t4" fill="#444" dominant-baseline="central">Down-regulated</text>
<rect x="91.2" y="105.7" width="8.5" height="3" fill="#666"/>
<text x="100.6" y="107.2" class="t4" fill="#444" dominant-baseline="central">Rich Factor(0-1.0)</text>
<rect x="208.5" y="39.6" width="5.2" height="5.2" fill="#ffc808"/>
<text x="214.3" y="42.9" class="t45" fill="#444" dominant-baseline="central">cellular component</text>
<text x="210.8" y="57.4" class="t45" fill="#444" dominant-baseline="central">-log10(Pvalue)</text>
<circle cx="211.4" cy="63.4" r="2.3" fill="#fbe2da"/>
<text x="214.4" y="63.4" class="t45" fill="#444" dominant-baseline="central">(0,1.3]</text>
<circle cx="211.4" cy="69.5" r="2.3" fill="#f9b8a8"/>
<text x="214.4" y="69.5" class="t45" fill="#444" dominant-baseline="central">(1.3,2]</text>
<circle cx="211.4" cy="75.6" r="2.3" fill="#f5907a"/>
<text x="214.4" y="75.6" class="t45" fill="#444" dominant-baseline="central">(2,5]</text>
<circle cx="211.4" cy="81.7" r="2.3" fill="#f0604a"/>
<text x="214.4" y="81.7" class="t45" fill="#444" dominant-baseline="central">(5,10]</text>
<circle cx="211.4" cy="87.8" r="2.3" fill="#ec2a26"/>
<text x="214.4" y="87.8" class="t45" fill="#444" dominant-baseline="central">(10,15]</text>
<circle cx="211.4" cy="93.9" r="2.3" fill="#e01818"/>
<text x="214.4" y="93.9" class="t45" fill="#444" dominant-baseline="central">(15,20]</text>
<circle cx="211.4" cy="100.0" r="2.3" fill="#a31c22"/>
<text x="214.4" y="100.0" class="t45" fill="#444" dominant-baseline="central">&gt;20</text>
<text x="9.8" y="25" class="lab">A</text>
</g>
<text x="298.6" y="25" class="lab">B</text>
<line x1="412.7" y1="27.5" x2="376.7" y2="49.6" stroke="#6a6a6a" stroke-width="0.7"/>
<path d="M376.70,49.60L378.34,47.30L379.49,49.18Z" fill="#111"/>
<line x1="429.8" y1="28" x2="429.8" y2="49.6" stroke="#6a6a6a" stroke-width="0.7"/>
<path d="M429.80,49.60L428.70,47.00L430.90,47.00Z" fill="#111"/>
<line x1="444.5" y1="27.5" x2="484" y2="50.2" stroke="#6a6a6a" stroke-width="0.7"/>
<path d="M484.00,50.20L481.20,49.86L482.29,47.95Z" fill="#111"/>
<line x1="348.7" y1="70.5" x2="322" y2="91.4" stroke="#6a6a6a" stroke-width="0.7"/>
<path d="M322.00,91.40L323.37,88.93L324.73,90.66Z" fill="#111"/>
<line x1="365.2" y1="70.5" x2="374.1" y2="91.8" stroke="#6a6a6a" stroke-width="0.7"/>
<path d="M374.10,91.80L372.08,89.83L374.11,88.98Z" fill="#111"/>
<line x1="438.2" y1="69.8" x2="456" y2="90.8" stroke="#6a6a6a" stroke-width="0.7"/>
<path d="M456.00,90.80L453.48,89.53L455.16,88.11Z" fill="#111"/>
<line x1="489" y1="69.8" x2="472.5" y2="90.8" stroke="#6a6a6a" stroke-width="0.7"/>
<path d="M472.50,90.80L473.24,88.08L474.97,89.44Z" fill="#111"/>
<line x1="310.5" y1="112.6" x2="310.5" y2="133.5" stroke="#6a6a6a" stroke-width="0.7"/>
<path d="M310.50,133.50L309.40,130.90L311.60,130.90Z" fill="#111"/>
<line x1="361.4" y1="112.2" x2="328.3" y2="133.5" stroke="#6a6a6a" stroke-width="0.7"/>
<path d="M328.30,133.50L329.89,131.17L331.08,133.02Z" fill="#111"/>
<line x1="378.5" y1="112.2" x2="378.5" y2="133.6" stroke="#6a6a6a" stroke-width="0.7"/>
<path d="M378.50,133.60L377.40,131.00L379.60,131.00Z" fill="#111"/>
<line x1="463.7" y1="112.4" x2="463.7" y2="133.5" stroke="#6a6a6a" stroke-width="0.7"/>
<path d="M463.70,133.50L462.60,130.90L464.80,130.90Z" fill="#111"/>
<line x1="378.5" y1="154.2" x2="378.5" y2="175.6" stroke="#6a6a6a" stroke-width="0.7"/>
<path d="M378.50,175.60L377.40,173.00L379.60,173.00Z" fill="#111"/>
<ellipse cx="430" cy="17.8" rx="26" ry="10.3" fill="#f6ef78" stroke="#2a2a2a" stroke-width="0.75"/>
<text x="430" y="13.40" class="go" text-anchor="middle" dominant-baseline="central">GO:0005575</text>
<text x="430" y="19.10" class="go" text-anchor="middle" dominant-baseline="central">cellular_compon</text>
<text x="430" y="24.40" class="go" text-anchor="middle" dominant-baseline="central">ent</text>
<ellipse cx="362" cy="60" rx="26" ry="10.3" fill="#f27d1a" stroke="#2a2a2a" stroke-width="0.75"/>
<text x="362" y="56.70" class="go" text-anchor="middle" dominant-baseline="central">GO:0030054</text>
<text x="362" y="62.00" class="go" text-anchor="middle" dominant-baseline="central">cell junction</text>
<ellipse cx="430" cy="60" rx="26" ry="10.3" fill="#f2ea00" stroke="#2a2a2a" stroke-width="0.75"/>
<text x="430" y="56.20" class="go" text-anchor="middle" dominant-baseline="central">GO:0016020</text>
<text x="430" y="61.80" class="go" text-anchor="middle" dominant-baseline="central">membrane</text>
<ellipse cx="498" cy="60" rx="26" ry="10.3" fill="#f2ea00" stroke="#2a2a2a" stroke-width="0.75"/>
<text x="498" y="56.50" class="go" text-anchor="middle" dominant-baseline="central">GO:0044464</text>
<text x="498" y="62.00" class="go" text-anchor="middle" dominant-baseline="central">cell part</text>
<ellipse cx="311" cy="102" rx="26" ry="10.3" fill="#f2491a" stroke="#2a2a2a" stroke-width="0.75"/>
<text x="311" y="97.60" class="go" text-anchor="middle" dominant-baseline="central">GO:0070161</text>
<text x="311" y="103.00" class="go" text-anchor="middle" dominant-baseline="central">anchoring</text>
<text x="311" y="108.20" class="go" text-anchor="middle" dominant-baseline="central">junction</text>
<ellipse cx="464" cy="102" rx="26" ry="10.3" fill="#f2ea00" stroke="#2a2a2a" stroke-width="0.75"/>
<text x="464" y="97.40" class="go" text-anchor="middle" dominant-baseline="central">GO:0005886</text>
<text x="464" y="103.00" class="go" text-anchor="middle" dominant-baseline="central">plasma</text>
<text x="464" y="108.40" class="go" text-anchor="middle" dominant-baseline="central">membrane</text>
<rect x="353.5" y="92" width="50.5" height="20.3" fill="#ff4a10"/>
<text x="380.2" y="98.10" class="go" text-anchor="middle" dominant-baseline="central">GO:0005911</text>
<text x="380.2" y="105.60" class="go" text-anchor="middle" dominant-baseline="central">cell-cell junction</text>
<rect x="285.5" y="133.7" width="50.5" height="20.3" fill="#ff1010"/>
<text x="310.9" y="139.30" class="go" text-anchor="middle" dominant-baseline="central">GO:0030057</text>
<text x="310.9" y="144.80" class="go" text-anchor="middle" dominant-baseline="central">desmosome</text>
<rect x="353.5" y="133.8" width="50.5" height="20.3" fill="#ff4a10"/>
<text x="380.0" y="139.50" class="go" text-anchor="middle" dominant-baseline="central">GO:0070160</text>
<text x="380.0" y="145.00" class="go" text-anchor="middle" dominant-baseline="central">tight junction</text>
<rect x="438.7" y="133.7" width="50.5" height="20.3" fill="#ff1010"/>
<text x="463.6" y="139.40" class="go" text-anchor="middle" dominant-baseline="central">GO:0001533</text>
<text x="463.6" y="145.00" class="go" text-anchor="middle" dominant-baseline="central">cornified</text>
<text x="463.6" y="150.40" class="go" text-anchor="middle" dominant-baseline="central">envelope</text>
<rect x="353.5" y="175.8" width="50.5" height="20.3" fill="#ff4a10"/>
<text x="380.2" y="181.40" class="go" text-anchor="middle" dominant-baseline="central">GO:0005923</text>
<text x="380.2" y="187.00" class="go" text-anchor="middle" dominant-baseline="central">bicellular tight</text>
<text x="380.2" y="192.30" class="go" text-anchor="middle" dominant-baseline="central">junction</text>
<defs>
<radialGradient id="gOr" cx="0.4" cy="0.35" r="0.7"><stop offset="0" stop-color="#ffd070"/><stop offset="0.6" stop-color="#f5a623"/><stop offset="1" stop-color="#d88a10"/></radialGradient>
<radialGradient id="gMag" cx="0.45" cy="0.4" r="0.65"><stop offset="0" stop-color="#f03a90"/><stop offset="1" stop-color="#c0086a"/></radialGradient>
<radialGradient id="gGrn" cx="0.4" cy="0.4" r="0.65"><stop offset="0" stop-color="#3a9a50"/><stop offset="0.7" stop-color="#1e6a34"/><stop offset="1" stop-color="#134a22"/></radialGradient>
<radialGradient id="gCing" cx="0.45" cy="0.4" r="0.65"><stop offset="0" stop-color="#f8661a"/><stop offset="0.7" stop-color="#e0500c"/><stop offset="1" stop-color="#a83200"/></radialGradient>
<radialGradient id="gPara" cx="0.55" cy="0.45" r="0.65"><stop offset="0" stop-color="#f8a018"/><stop offset="0.7" stop-color="#e07c0c"/><stop offset="1" stop-color="#a05004"/></radialGradient>
<radialGradient id="gPur" cx="0.4" cy="0.4" r="0.6"><stop offset="0" stop-color="#c040e0"/><stop offset="1" stop-color="#7a1aa0"/></radialGradient>
<radialGradient id="gTuba" cx="0.4" cy="0.3" r="0.75"><stop offset="0" stop-color="#24985e"/><stop offset="0.6" stop-color="#136a40"/><stop offset="1" stop-color="#083a22"/></radialGradient>
<radialGradient id="gLg" cx="0.45" cy="0.4" r="0.6"><stop offset="0" stop-color="#c8ecc8"/><stop offset="0.7" stop-color="#50b860"/><stop offset="1" stop-color="#2a8a3a"/></radialGradient>
<radialGradient id="gMagi" cx="0.55" cy="0.3" r="0.8"><stop offset="0" stop-color="#ffe080"/><stop offset="0.45" stop-color="#fbbb22"/><stop offset="1" stop-color="#e89a08"/></radialGradient>
</defs>
<text x="4.2" y="200" class="lab">C</text>
<text x="22.7" y="196.3" class="hd" style="font-size:8px">Inner cell</text>
<text x="52.4" y="225.6" class="hd">Desmosome</text>
<text x="130.8" y="211.8" class="hd">Adhesion</text>
<text x="130.8" y="222.2" class="hd">junction</text>
<text x="322.5" y="206.6" class="hd">Tight</text>
<text x="322.5" y="217.5" class="hd">junction</text>
<text x="483.2" y="210.6" class="hd">Gap</text>
<text x="483.2" y="220.7" class="hd">junction</text>
<text x="20" y="262.4" class="hd">Plasma</text>
<text x="20" y="273.0" class="hd">membrane</text>
<path d="M11,274.75 L358,274.95 L398,272.15 L405,271.35 L461,271.35 L490,276.55 L535,276.55" fill="none" stroke="#f032dc" stroke-width="1.5"/>
<path d="M11,278.15 L358,278.35 L398,275.55 L405,274.75 L461,274.75 L490,279.95 L535,279.95" fill="none" stroke="#f032dc" stroke-width="1.5"/>
<path d="M11,276.45 L358,276.65 L398,273.85 L405,273.05 L461,273.05 L490,278.25 L535,278.25" fill="none" stroke="#f7a0ea" stroke-width="1.9" stroke-dasharray="0 2.3 0.8 6.2"/>
<path d="M11,276.45 L358,276.65 L398,273.85 L405,273.05 L461,273.05 L490,278.25 L535,278.25" fill="none" stroke="#f8e81c" stroke-width="1.9" stroke-dasharray="2.3 0.8 2.3 3.9"/>
<path d="M11,281.55 L358,281.75 L398,278.95 L405,278.15 L461,278.15 L490,283.35 L535,283.35" fill="none" stroke="#f032dc" stroke-width="1.5"/>
<path d="M11,284.95 L358,285.15 L398,282.35 L405,281.55 L461,281.55 L490,286.75 L535,286.75" fill="none" stroke="#f032dc" stroke-width="1.5"/>
<path d="M11,283.25 L358,283.45 L398,280.65 L405,279.85 L461,279.85 L490,285.05 L535,285.05" fill="none" stroke="#f7a0ea" stroke-width="1.9" stroke-dasharray="0 2.3 0.8 6.2"/>
<path d="M11,283.25 L358,283.45 L398,280.65 L405,279.85 L461,279.85 L490,285.05 L535,285.05" fill="none" stroke="#f8e81c" stroke-width="1.9" stroke-dasharray="2.3 0.8 2.3 3.9"/>
<line x1="120.6" y1="233.5" x2="120.6" y2="345" stroke="#2a2a2a" stroke-width="0.95" stroke-dasharray="3 2.1"/>
<line x1="207.8" y1="233.5" x2="207.8" y2="345" stroke="#2a2a2a" stroke-width="0.95" stroke-dasharray="3 2.1"/>
<line x1="489.4" y1="233.5" x2="489.4" y2="345" stroke="#2a2a2a" stroke-width="0.95" stroke-dasharray="3 2.1"/>
<path d="M113,296 L122.5,299.8 L134,307.4 L146,312.2 L160,318.6 L168,323 L179.5,327.8" fill="none" stroke="#1d5f9c" stroke-width="3.0" stroke-linecap="round" stroke-linejoin="round"/>
<path d="M113.00,296.00 L113.36,296.72 L113.76,297.35 L114.22,297.80 L114.78,298.03 L115.42,298.04 L116.14,297.87 L116.89,297.60 L117.65,297.32 L118.37,297.13 L119.03,297.11 L119.60,297.31 L120.07,297.73 L120.48,298.34 L120.84,299.05 L121.20,299.78 L121.59,300.42 L122.04,300.90 L122.31,301.16 L122.92,301.32 L123.64,301.32 L124.43,301.22 L125.23,301.09 L125.99,301.04 L126.65,301.13 L127.18,301.41 L127.59,301.89 L127.87,302.54 L128.09,303.31 L128.29,304.09 L128.53,304.82 L128.86,305.41 L129.32,305.80 L129.91,306.00 L130.62,306.02 L131.40,305.92 L132.21,305.79 L132.98,305.72 L133.65,305.79 L134.21,306.04 L134.43,306.39 L134.86,306.94 L135.23,307.64 L135.58,308.37 L135.96,309.05 L136.39,309.58 L136.91,309.91 L137.51,310.01 L138.20,309.91 L138.94,309.67 L139.71,309.39 L140.45,309.15 L141.14,309.05 L141.74,309.15 L142.26,309.48 L142.69,310.01 L143.07,310.69 L143.42,311.42 L143.79,312.12 L144.22,312.67 L144.72,313.03 L145.31,313.17 L145.95,313.09 L146.69,312.90 L147.47,312.65 L148.23,312.44 L148.93,312.35 L149.54,312.45 L150.06,312.77 L150.48,313.30 L150.83,313.98 L151.15,314.73 L151.48,315.45 L151.86,316.05 L152.34,316.46 L152.91,316.66 L153.58,316.64 L154.32,316.47 L155.09,316.22 L155.85,316.00 L156.57,315.89 L157.19,315.96 L157.72,316.25 L158.15,316.75 L158.51,317.41 L158.83,318.15 L159.16,318.88 L159.54,319.51 L159.89,319.95 L160.43,320.21 L161.09,320.27 L161.83,320.18 L162.61,319.99 L163.40,319.81 L164.13,319.73 L164.76,319.82 L165.29,320.12 L165.69,320.63 L166.01,321.29 L166.28,322.06 L166.55,322.82 L166.87,323.48 L167.27,323.99 L167.94,324.30 L168.58,324.32 L169.30,324.16 L170.06,323.90 L170.82,323.63 L171.54,323.45 L172.20,323.45 L172.76,323.65 L173.24,324.08 L173.63,324.69 L173.98,325.41 L174.33,326.15 L174.71,326.80 L175.16,327.28 L175.70,327.55 L176.33,327.60 L177.03,327.47 L177.79,327.21 L178.56,326.94 L179.29,326.75 L179.96,326.71" fill="none" stroke="#2a7cc4" stroke-width="2.1" stroke-linecap="round" stroke-dasharray="0.01 1.4"/>
<path d="M113.00,296.00 L113.36,296.72 L113.76,297.35 L114.22,297.80 L114.78,298.03 L115.42,298.04 L116.14,297.87 L116.89,297.60 L117.65,297.32 L118.37,297.13 L119.03,297.11 L119.60,297.31 L120.07,297.73 L120.48,298.34 L120.84,299.05 L121.20,299.78 L121.59,300.42 L122.04,300.90 L122.31,301.16 L122.92,301.32 L123.64,301.32 L124.43,301.22 L125.23,301.09 L125.99,301.04 L126.65,301.13 L127.18,301.41 L127.59,301.89 L127.87,302.54 L128.09,303.31 L128.29,304.09 L128.53,304.82 L128.86,305.41 L129.32,305.80 L129.91,306.00 L130.62,306.02 L131.40,305.92 L132.21,305.79 L132.98,305.72 L133.65,305.79 L134.21,306.04 L134.43,306.39 L134.86,306.94 L135.23,307.64 L135.58,308.37 L135.96,309.05 L136.39,309.58 L136.91,309.91 L137.51,310.01 L138.20,309.91 L138.94,309.67 L139.71,309.39 L140.45,309.15 L141.14,309.05 L141.74,309.15 L142.26,309.48 L142.69,310.01 L143.07,310.69 L143.42,311.42 L143.79,312.12 L144.22,312.67 L144.72,313.03 L145.31,313.17 L145.95,313.09 L146.69,312.90 L147.47,312.65 L148.23,312.44 L148.93,312.35 L149.54,312.45 L150.06,312.77 L150.48,313.30 L150.83,313.98 L151.15,314.73 L151.48,315.45 L151.86,316.05 L152.34,316.46 L152.91,316.66 L153.58,316.64 L154.32,316.47 L155.09,316.22 L155.85,316.00 L156.57,315.89 L157.19,315.96 L157.72,316.25 L158.15,316.75 L158.51,317.41 L158.83,318.15 L159.16,318.88 L159.54,319.51 L159.89,319.95 L160.43,320.21 L161.09,320.27 L161.83,320.18 L162.61,319.99 L163.40,319.81 L164.13,319.73 L164.76,319.82 L165.29,320.12 L165.69,320.63 L166.01,321.29 L166.28,322.06 L166.55,322.82 L166.87,323.48 L167.27,323.99 L167.94,324.30 L168.58,324.32 L169.30,324.16 L170.06,323.90 L170.82,323.63 L171.54,323.45 L172.20,323.45 L172.76,323.65 L173.24,324.08 L173.63,324.69 L173.98,325.41 L174.33,326.15 L174.71,326.80 L175.16,327.28 L175.70,327.55 L176.33,327.60 L177.03,327.47 L177.79,327.21 L178.56,326.94 L179.29,326.75 L179.96,326.71" fill="none" stroke="#68bcf0" stroke-width="1.0" stroke-linecap="round" stroke-dasharray="0.01 1.4"/>
<path d="M113.00,296.00 L113.76,295.72 L114.48,295.55 L115.13,295.54 L115.69,295.76 L116.16,296.19 L116.56,296.81 L116.92,297.53 L117.28,298.25 L117.67,298.89 L118.13,299.35 L118.68,299.60 L119.32,299.62 L120.03,299.47 L120.78,299.20 L121.54,298.92 L122.27,298.72 L122.93,298.69 L123.67,299.09 L124.06,299.59 L124.35,300.25 L124.56,301.02 L124.76,301.81 L125.01,302.52 L125.35,303.10 L125.81,303.48 L126.42,303.66 L127.13,303.67 L127.92,303.57 L128.72,303.44 L129.48,303.38 L130.15,303.46 L130.70,303.72 L131.11,304.19 L131.40,304.83 L131.62,305.59 L131.82,306.38 L132.06,307.12 L132.38,307.71 L132.83,308.12 L133.61,308.43 L134.31,308.32 L135.05,308.07 L135.81,307.79 L136.55,307.56 L137.24,307.47 L137.84,307.59 L138.35,307.93 L138.77,308.48 L139.15,309.16 L139.50,309.90 L139.87,310.58 L140.30,311.13 L140.81,311.47 L141.41,311.59 L142.10,311.50 L142.84,311.27 L143.60,310.98 L144.34,310.74 L145.03,310.63 L145.65,310.71 L146.17,311.03 L146.64,311.58 L146.99,312.26 L147.30,313.01 L147.64,313.73 L148.03,314.32 L148.51,314.72 L149.09,314.90 L149.76,314.87 L150.50,314.69 L151.28,314.44 L152.04,314.22 L152.75,314.12 L153.37,314.20 L153.89,314.51 L154.32,315.02 L154.67,315.69 L154.99,316.44 L155.32,317.17 L155.70,317.78 L156.16,318.21 L156.73,318.42 L157.39,318.42 L158.13,318.25 L158.90,318.01 L159.67,317.78 L160.38,317.65 L161.08,317.79 L161.59,318.10 L162.00,318.62 L162.31,319.30 L162.57,320.06 L162.84,320.82 L163.17,321.48 L163.58,321.97 L164.11,322.25 L164.76,322.32 L165.49,322.23 L166.28,322.05 L167.07,321.87 L167.80,321.78 L168.45,321.86 L168.88,322.04 L169.34,322.48 L169.74,323.11 L170.09,323.83 L170.43,324.56 L170.82,325.20 L171.27,325.67 L171.82,325.93 L172.45,325.96 L173.17,325.81 L173.92,325.56 L174.69,325.29 L175.42,325.10 L176.08,325.08 L176.65,325.27 L177.13,325.68 L177.53,326.28 L177.88,327.00 L178.23,327.73 L178.60,328.39 L179.04,328.89" fill="none" stroke="#2a7cc4" stroke-width="2.1" stroke-linecap="round" stroke-dasharray="0.01 1.4"/>
<path d="M113.00,296.00 L113.76,295.72 L114.48,295.55 L115.13,295.54 L115.69,295.76 L116.16,296.19 L116.56,296.81 L116.92,297.53 L117.28,298.25 L117.67,298.89 L118.13,299.35 L118.68,299.60 L119.32,299.62 L120.03,299.47 L120.78,299.20 L121.54,298.92 L122.27,298.72 L122.93,298.69 L123.67,299.09 L124.06,299.59 L124.35,300.25 L124.56,301.02 L124.76,301.81 L125.01,302.52 L125.35,303.10 L125.81,303.48 L126.42,303.66 L127.13,303.67 L127.92,303.57 L128.72,303.44 L129.48,303.38 L130.15,303.46 L130.70,303.72 L131.11,304.19 L131.40,304.83 L131.62,305.59 L131.82,306.38 L132.06,307.12 L132.38,307.71 L132.83,308.12 L133.61,308.43 L134.31,308.32 L135.05,308.07 L135.81,307.79 L136.55,307.56 L137.24,307.47 L137.84,307.59 L138.35,307.93 L138.77,308.48 L139.15,309.16 L139.50,309.90 L139.87,310.58 L140.30,311.13 L140.81,311.47 L141.41,311.59 L142.10,311.50 L142.84,311.27 L143.60,310.98 L144.34,310.74 L145.03,310.63 L145.65,310.71 L146.17,311.03 L146.64,311.58 L146.99,312.26 L147.30,313.01 L147.64,313.73 L148.03,314.32 L148.51,314.72 L149.09,314.90 L149.76,314.87 L150.50,314.69 L151.28,314.44 L152.04,314.22 L152.75,314.12 L153.37,314.20 L153.89,314.51 L154.32,315.02 L154.67,315.69 L154.99,316.44 L155.32,317.17 L155.70,317.78 L156.16,318.21 L156.73,318.42 L157.39,318.42 L158.13,318.25 L158.90,318.01 L159.67,317.78 L160.38,317.65 L161.08,317.79 L161.59,318.10 L162.00,318.62 L162.31,319.30 L162.57,320.06 L162.84,320.82 L163.17,321.48 L163.58,321.97 L164.11,322.25 L164.76,322.32 L165.49,322.23 L166.28,322.05 L167.07,321.87 L167.80,321.78 L168.45,321.86 L168.88,322.04 L169.34,322.48 L169.74,323.11 L170.09,323.83 L170.43,324.56 L170.82,325.20 L171.27,325.67 L171.82,325.93 L172.45,325.96 L173.17,325.81 L173.92,325.56 L174.69,325.29 L175.42,325.10 L176.08,325.08 L176.65,325.27 L177.13,325.68 L177.53,326.28 L177.88,327.00 L178.23,327.73 L178.60,328.39 L179.04,328.89" fill="none" stroke="#68bcf0" stroke-width="1.0" stroke-linecap="round" stroke-dasharray="0.01 1.4"/>
<path d="M216,297 L232.3,306.2 L246,313 L259.5,317.3 L270,321.5 L282.5,328" fill="none" stroke="#1d5f9c" stroke-width="3.0" stroke-linecap="round" stroke-linejoin="round"/>
<path d="M216.00,297.00 L216.26,297.77 L216.57,298.44 L216.98,298.95 L217.50,299.25 L218.14,299.34 L218.87,299.27 L219.66,299.10 L220.45,298.92 L221.20,298.84 L221.85,298.91 L222.38,299.19 L222.80,299.68 L223.12,300.34 L223.38,301.10 L223.64,301.87 L223.94,302.56 L224.34,303.09 L224.85,303.41 L225.48,303.52 L226.21,303.46 L226.99,303.29 L227.78,303.11 L228.53,303.02 L229.19,303.07 L229.74,303.33 L230.16,303.81 L230.49,304.45 L230.76,305.21 L231.01,305.98 L231.31,306.68 L231.70,307.22 L232.27,307.57 L232.90,307.67 L233.61,307.58 L234.38,307.38 L235.17,307.16 L235.92,307.01 L236.59,307.01 L237.16,307.22 L237.62,307.65 L237.98,308.27 L238.29,309.00 L238.59,309.76 L238.92,310.45 L239.32,310.99 L239.83,311.33 L240.45,311.45 L241.15,311.37 L241.92,311.18 L242.71,310.96 L243.46,310.79 L244.14,310.78 L244.72,310.97 L245.19,311.38 L245.57,311.98 L245.88,312.71 L246.24,313.44 L246.67,314.08 L247.15,314.57 L247.69,314.85 L248.31,314.89 L249.00,314.73 L249.72,314.43 L250.47,314.09 L251.19,313.80 L251.87,313.67 L252.47,313.75 L253.01,314.06 L253.47,314.58 L253.90,315.24 L254.30,315.95 L254.73,316.61 L255.20,317.12 L255.74,317.41 L256.35,317.48 L257.03,317.33 L257.75,317.04 L258.50,316.70 L259.22,316.41 L259.98,316.29 L260.59,316.39 L261.11,316.72 L261.54,317.25 L261.92,317.93 L262.27,318.67 L262.65,319.36 L263.07,319.92 L263.58,320.28 L264.18,320.41 L264.86,320.33 L265.60,320.10 L266.36,319.81 L267.11,319.56 L267.81,319.45 L268.43,319.53 L268.95,319.83 L269.39,320.35 L269.78,321.02 L270.11,321.77 L270.40,322.50 L270.76,323.12 L271.22,323.54 L271.79,323.75 L272.47,323.76 L273.23,323.61 L274.01,323.40 L274.79,323.22 L275.50,323.16 L276.12,323.28 L276.62,323.62 L277.02,324.16 L277.34,324.85 L277.62,325.62 L277.91,326.36 L278.27,326.99 L278.72,327.43 L279.28,327.66 L279.95,327.68 L280.69,327.55 L281.48,327.34 L282.26,327.16 L282.98,327.08" fill="none" stroke="#2a7cc4" stroke-width="2.1" stroke-linecap="round" stroke-dasharray="0.01 1.4"/>
<path d="M216.00,297.00 L216.26,297.77 L216.57,298.44 L216.98,298.95 L217.50,299.25 L218.14,299.34 L218.87,299.27 L219.66,299.10 L220.45,298.92 L221.20,298.84 L221.85,298.91 L222.38,299.19 L222.80,299.68 L223.12,300.34 L223.38,301.10 L223.64,301.87 L223.94,302.56 L224.34,303.09 L224.85,303.41 L225.48,303.52 L226.21,303.46 L226.99,303.29 L227.78,303.11 L228.53,303.02 L229.19,303.07 L229.74,303.33 L230.16,303.81 L230.49,304.45 L230.76,305.21 L231.01,305.98 L231.31,306.68 L231.70,307.22 L232.27,307.57 L232.90,307.67 L233.61,307.58 L234.38,307.38 L235.17,307.16 L235.92,307.01 L236.59,307.01 L237.16,307.22 L237.62,307.65 L237.98,308.27 L238.29,309.00 L238.59,309.76 L238.92,310.45 L239.32,310.99 L239.83,311.33 L240.45,311.45 L241.15,311.37 L241.92,311.18 L242.71,310.96 L243.46,310.79 L244.14,310.78 L244.72,310.97 L245.19,311.38 L245.57,311.98 L245.88,312.71 L246.24,313.44 L246.67,314.08 L247.15,314.57 L247.69,314.85 L248.31,314.89 L249.00,314.73 L249.72,314.43 L250.47,314.09 L251.19,313.80 L251.87,313.67 L252.47,313.75 L253.01,314.06 L253.47,314.58 L253.90,315.24 L254.30,315.95 L254.73,316.61 L255.20,317.12 L255.74,317.41 L256.35,317.48 L257.03,317.33 L257.75,317.04 L258.50,316.70 L259.22,316.41 L259.98,316.29 L260.59,316.39 L261.11,316.72 L261.54,317.25 L261.92,317.93 L262.27,318.67 L262.65,319.36 L263.07,319.92 L263.58,320.28 L264.18,320.41 L264.86,320.33 L265.60,320.10 L266.36,319.81 L267.11,319.56 L267.81,319.45 L268.43,319.53 L268.95,319.83 L269.39,320.35 L269.78,321.02 L270.11,321.77 L270.40,322.50 L270.76,323.12 L271.22,323.54 L271.79,323.75 L272.47,323.76 L273.23,323.61 L274.01,323.40 L274.79,323.22 L275.50,323.16 L276.12,323.28 L276.62,323.62 L277.02,324.16 L277.34,324.85 L277.62,325.62 L277.91,326.36 L278.27,326.99 L278.72,327.43 L279.28,327.66 L279.95,327.68 L280.69,327.55 L281.48,327.34 L282.26,327.16 L282.98,327.08" fill="none" stroke="#68bcf0" stroke-width="1.0" stroke-linecap="round" stroke-dasharray="0.01 1.4"/>
<path d="M216.00,297.00 L216.79,296.83 L217.53,296.75 L218.17,296.83 L218.70,297.12 L219.11,297.62 L219.43,298.29 L219.69,299.05 L219.95,299.82 L220.26,300.50 L220.66,301.02 L221.17,301.33 L221.81,301.43 L222.54,301.36 L223.33,301.20 L224.12,301.02 L224.86,300.93 L225.52,300.99 L226.06,301.26 L226.48,301.74 L226.80,302.40 L227.07,303.16 L227.33,303.93 L227.63,304.62 L228.02,305.16 L228.52,305.49 L229.15,305.61 L229.87,305.55 L230.65,305.39 L231.45,305.21 L232.20,305.11 L232.87,305.16 L233.37,305.35 L233.83,305.79 L234.19,306.41 L234.50,307.15 L234.80,307.91 L235.13,308.59 L235.54,309.12 L236.05,309.45 L236.67,309.56 L237.38,309.48 L238.15,309.28 L238.94,309.06 L239.69,308.90 L240.36,308.90 L240.94,309.10 L241.40,309.52 L241.78,310.12 L242.09,310.85 L242.38,311.62 L242.71,312.31 L243.11,312.86 L243.61,313.21 L244.22,313.33 L244.93,313.27 L245.69,313.08 L246.45,312.78 L247.17,312.50 L247.85,312.38 L248.45,312.47 L248.98,312.79 L249.45,313.32 L249.87,313.99 L250.27,314.70 L250.70,315.35 L251.17,315.84 L251.71,316.13 L252.33,316.19 L253.01,316.03 L253.74,315.74 L254.48,315.39 L255.21,315.11 L255.88,314.96 L256.50,315.03 L257.03,315.33 L257.50,315.84 L257.93,316.50 L258.33,317.21 L258.76,317.87 L259.15,318.36 L259.66,318.71 L260.26,318.83 L260.94,318.74 L261.69,318.51 L262.45,318.22 L263.20,317.98 L263.89,317.87 L264.51,317.96 L265.03,318.28 L265.47,318.80 L265.85,319.48 L266.20,320.21 L266.57,320.91 L267.00,321.48 L267.50,321.84 L268.09,321.98 L268.77,321.91 L269.51,321.69 L270.28,321.43 L271.05,321.25 L271.76,321.20 L272.37,321.33 L272.87,321.68 L273.27,322.23 L273.58,322.93 L273.86,323.69 L274.16,324.43 L274.52,325.05 L274.97,325.49 L275.54,325.71 L276.21,325.72 L276.96,325.58 L277.75,325.37 L278.52,325.19 L279.24,325.12 L279.86,325.23 L280.37,325.56 L280.77,326.09 L281.10,326.78 L281.38,327.54 L281.67,328.29 L282.02,328.92" fill="none" stroke="#2a7cc4" stroke-width="2.1" stroke-linecap="round" stroke-dasharray="0.01 1.4"/>
<path d="M216.00,297.00 L216.79,296.83 L217.53,296.75 L218.17,296.83 L218.70,297.12 L219.11,297.62 L219.43,298.29 L219.69,299.05 L219.95,299.82 L220.26,300.50 L220.66,301.02 L221.17,301.33 L221.81,301.43 L222.54,301.36 L223.33,301.20 L224.12,301.02 L224.86,300.93 L225.52,300.99 L226.06,301.26 L226.48,301.74 L226.80,302.40 L227.07,303.16 L227.33,303.93 L227.63,304.62 L228.02,305.16 L228.52,305.49 L229.15,305.61 L229.87,305.55 L230.65,305.39 L231.45,305.21 L232.20,305.11 L232.87,305.16 L233.37,305.35 L233.83,305.79 L234.19,306.41 L234.50,307.15 L234.80,307.91 L235.13,308.59 L235.54,309.12 L236.05,309.45 L236.67,309.56 L237.38,309.48 L238.15,309.28 L238.94,309.06 L239.69,308.90 L240.36,308.90 L240.94,309.10 L241.40,309.52 L241.78,310.12 L242.09,310.85 L242.38,311.62 L242.71,312.31 L243.11,312.86 L243.61,313.21 L244.22,313.33 L244.93,313.27 L245.69,313.08 L246.45,312.78 L247.17,312.50 L247.85,312.38 L248.45,312.47 L248.98,312.79 L249.45,313.32 L249.87,313.99 L250.27,314.70 L250.70,315.35 L251.17,315.84 L251.71,316.13 L252.33,316.19 L253.01,316.03 L253.74,315.74 L254.48,315.39 L255.21,315.11 L255.88,314.96 L256.50,315.03 L257.03,315.33 L257.50,315.84 L257.93,316.50 L258.33,317.21 L258.76,317.87 L259.15,318.36 L259.66,318.71 L260.26,318.83 L260.94,318.74 L261.69,318.51 L262.45,318.22 L263.20,317.98 L263.89,317.87 L264.51,317.96 L265.03,318.28 L265.47,318.80 L265.85,319.48 L266.20,320.21 L266.57,320.91 L267.00,321.48 L267.50,321.84 L268.09,321.98 L268.77,321.91 L269.51,321.69 L270.28,321.43 L271.05,321.25 L271.76,321.20 L272.37,321.33 L272.87,321.68 L273.27,322.23 L273.58,322.93 L273.86,323.69 L274.16,324.43 L274.52,325.05 L274.97,325.49 L275.54,325.71 L276.21,325.72 L276.96,325.58 L277.75,325.37 L278.52,325.19 L279.24,325.12 L279.86,325.23 L280.37,325.56 L280.77,326.09 L281.10,326.78 L281.38,327.54 L281.67,328.29 L282.02,328.92" fill="none" stroke="#68bcf0" stroke-width="1.0" stroke-linecap="round" stroke-dasharray="0.01 1.4"/>
<path d="M283,296.5 L296,304 L309,312 L325,319 L349,327.7" fill="none" stroke="#1d5f9c" stroke-width="3.0" stroke-linecap="round" stroke-linejoin="round"/>
<path d="M283.00,296.50 L283.25,297.27 L283.56,297.94 L283.95,298.45 L284.47,298.76 L285.10,298.86 L285.83,298.80 L286.62,298.64 L287.41,298.47 L288.15,298.38 L288.80,298.46 L289.34,298.73 L289.75,299.22 L290.07,299.87 L290.33,300.63 L290.57,301.40 L290.87,302.09 L291.25,302.63 L291.74,302.97 L292.36,303.11 L293.08,303.06 L293.86,302.91 L294.65,302.74 L295.41,302.64 L296.07,302.68 L296.66,302.94 L297.08,303.41 L297.39,304.05 L297.63,304.80 L297.85,305.58 L298.11,306.30 L298.46,306.88 L298.93,307.27 L299.52,307.45 L300.23,307.45 L301.01,307.33 L301.81,307.18 L302.57,307.08 L303.25,307.12 L303.82,307.35 L304.26,307.78 L304.58,308.39 L304.83,309.14 L305.06,309.92 L305.31,310.65 L305.64,311.26 L306.09,311.68 L306.66,311.89 L307.35,311.91 L308.12,311.81 L308.92,311.65 L309.63,311.45 L310.32,311.37 L310.93,311.48 L311.44,311.81 L311.85,312.35 L312.21,313.04 L312.54,313.78 L312.89,314.49 L313.29,315.07 L313.78,315.45 L314.36,315.61 L315.03,315.57 L315.78,315.38 L316.55,315.12 L317.30,314.88 L318.01,314.77 L318.63,314.85 L319.15,315.15 L319.58,315.66 L319.95,316.33 L320.28,317.07 L320.62,317.79 L321.01,318.39 L321.48,318.81 L322.05,319.01 L322.71,319.00 L323.45,318.82 L324.21,318.56 L324.98,318.32 L325.64,318.14 L326.27,318.15 L326.83,318.38 L327.30,318.83 L327.72,319.45 L328.10,320.17 L328.48,320.87 L328.90,321.47 L329.39,321.89 L329.95,322.09 L330.60,322.06 L331.31,321.86 L332.06,321.56 L332.81,321.26 L333.52,321.06 L334.17,321.03 L334.74,321.23 L335.23,321.65 L335.65,322.25 L336.03,322.95 L336.41,323.66 L336.82,324.29 L337.30,324.74 L337.85,324.97 L338.49,324.98 L339.19,324.80 L339.94,324.51 L340.69,324.20 L341.41,323.98 L342.07,323.92 L342.65,324.08 L343.15,324.47 L343.58,325.04 L343.96,325.74 L344.34,326.46 L344.75,327.10 L345.21,327.58 L345.75,327.85 L346.38,327.89 L347.07,327.73 L347.81,327.45 L348.56,327.14 L349.29,326.90" fill="none" stroke="#2a7cc4" stroke-width="2.1" stroke-linecap="round" stroke-dasharray="0.01 1.4"/>
<path d="M283.00,296.50 L283.25,297.27 L283.56,297.94 L283.95,298.45 L284.47,298.76 L285.10,298.86 L285.83,298.80 L286.62,298.64 L287.41,298.47 L288.15,298.38 L288.80,298.46 L289.34,298.73 L289.75,299.22 L290.07,299.87 L290.33,300.63 L290.57,301.40 L290.87,302.09 L291.25,302.63 L291.74,302.97 L292.36,303.11 L293.08,303.06 L293.86,302.91 L294.65,302.74 L295.41,302.64 L296.07,302.68 L296.66,302.94 L297.08,303.41 L297.39,304.05 L297.63,304.80 L297.85,305.58 L298.11,306.30 L298.46,306.88 L298.93,307.27 L299.52,307.45 L300.23,307.45 L301.01,307.33 L301.81,307.18 L302.57,307.08 L303.25,307.12 L303.82,307.35 L304.26,307.78 L304.58,308.39 L304.83,309.14 L305.06,309.92 L305.31,310.65 L305.64,311.26 L306.09,311.68 L306.66,311.89 L307.35,311.91 L308.12,311.81 L308.92,311.65 L309.63,311.45 L310.32,311.37 L310.93,311.48 L311.44,311.81 L311.85,312.35 L312.21,313.04 L312.54,313.78 L312.89,314.49 L313.29,315.07 L313.78,315.45 L314.36,315.61 L315.03,315.57 L315.78,315.38 L316.55,315.12 L317.30,314.88 L318.01,314.77 L318.63,314.85 L319.15,315.15 L319.58,315.66 L319.95,316.33 L320.28,317.07 L320.62,317.79 L321.01,318.39 L321.48,318.81 L322.05,319.01 L322.71,319.00 L323.45,318.82 L324.21,318.56 L324.98,318.32 L325.64,318.14 L326.27,318.15 L326.83,318.38 L327.30,318.83 L327.72,319.45 L328.10,320.17 L328.48,320.87 L328.90,321.47 L329.39,321.89 L329.95,322.09 L330.60,322.06 L331.31,321.86 L332.06,321.56 L332.81,321.26 L333.52,321.06 L334.17,321.03 L334.74,321.23 L335.23,321.65 L335.65,322.25 L336.03,322.95 L336.41,323.66 L336.82,324.29 L337.30,324.74 L337.85,324.97 L338.49,324.98 L339.19,324.80 L339.94,324.51 L340.69,324.20 L341.41,323.98 L342.07,323.92 L342.65,324.08 L343.15,324.47 L343.58,325.04 L343.96,325.74 L344.34,326.46 L344.75,327.10 L345.21,327.58 L345.75,327.85 L346.38,327.89 L347.07,327.73 L347.81,327.45 L348.56,327.14 L349.29,326.90" fill="none" stroke="#68bcf0" stroke-width="1.0" stroke-linecap="round" stroke-dasharray="0.01 1.4"/>
<path d="M283.00,296.50 L283.79,296.34 L284.52,296.26 L285.17,296.35 L285.69,296.64 L286.10,297.14 L286.41,297.80 L286.66,298.56 L286.91,299.33 L287.21,300.02 L287.60,300.54 L288.11,300.87 L288.73,300.99 L289.46,300.93 L290.24,300.78 L291.03,300.60 L291.78,300.51 L292.44,300.57 L292.98,300.83 L293.41,301.30 L293.73,301.94 L293.99,302.69 L294.23,303.46 L294.52,304.17 L294.90,304.72 L295.35,305.06 L295.96,305.23 L296.67,305.22 L297.45,305.09 L298.25,304.94 L299.01,304.85 L299.68,304.90 L300.24,305.14 L300.67,305.59 L300.99,306.22 L301.23,306.97 L301.45,307.75 L301.71,308.48 L302.05,309.07 L302.51,309.47 L303.09,309.67 L303.79,309.68 L304.57,309.57 L305.37,309.42 L306.14,309.31 L306.82,309.34 L307.40,309.55 L307.85,309.97 L308.18,310.57 L308.43,311.30 L308.66,312.09 L309.02,312.83 L309.43,313.40 L309.92,313.77 L310.52,313.91 L311.20,313.86 L311.94,313.66 L312.71,313.39 L313.46,313.17 L314.16,313.07 L314.78,313.17 L315.29,313.48 L315.72,314.01 L316.08,314.68 L316.41,315.43 L316.75,316.14 L317.15,316.73 L317.63,317.13 L318.21,317.31 L318.87,317.28 L319.61,317.10 L320.38,316.84 L321.14,316.60 L321.85,316.48 L322.48,316.54 L323.01,316.83 L323.45,317.32 L323.81,317.98 L324.15,318.72 L324.48,319.44 L324.94,320.06 L325.43,320.47 L326.01,320.65 L326.66,320.60 L327.38,320.39 L328.12,320.09 L328.87,319.79 L329.58,319.60 L330.22,319.59 L330.78,319.80 L331.26,320.24 L331.68,320.85 L332.06,321.56 L332.44,322.27 L332.86,322.88 L333.34,323.32 L333.90,323.53 L334.55,323.52 L335.25,323.33 L336.00,323.03 L336.75,322.73 L337.46,322.52 L338.12,322.48 L338.69,322.65 L339.19,323.06 L339.61,323.64 L340.00,324.34 L340.38,325.06 L340.78,325.69 L341.25,326.16 L341.80,326.41 L342.43,326.43 L343.13,326.26 L343.87,325.98 L344.63,325.67 L345.35,325.44 L346.01,325.37 L346.60,325.51 L347.11,325.88 L347.54,326.44 L347.93,327.13 L348.31,327.85 L348.71,328.50" fill="none" stroke="#2a7cc4" stroke-width="2.1" stroke-linecap="round" stroke-dasharray="0.01 1.4"/>
<path d="M283.00,296.50 L283.79,296.34 L284.52,296.26 L285.17,296.35 L285.69,296.64 L286.10,297.14 L286.41,297.80 L286.66,298.56 L286.91,299.33 L287.21,300.02 L287.60,300.54 L288.11,300.87 L288.73,300.99 L289.46,300.93 L290.24,300.78 L291.03,300.60 L291.78,300.51 L292.44,300.57 L292.98,300.83 L293.41,301.30 L293.73,301.94 L293.99,302.69 L294.23,303.46 L294.52,304.17 L294.90,304.72 L295.35,305.06 L295.96,305.23 L296.67,305.22 L297.45,305.09 L298.25,304.94 L299.01,304.85 L299.68,304.90 L300.24,305.14 L300.67,305.59 L300.99,306.22 L301.23,306.97 L301.45,307.75 L301.71,308.48 L302.05,309.07 L302.51,309.47 L303.09,309.67 L303.79,309.68 L304.57,309.57 L305.37,309.42 L306.14,309.31 L306.82,309.34 L307.40,309.55 L307.85,309.97 L308.18,310.57 L308.43,311.30 L308.66,312.09 L309.02,312.83 L309.43,313.40 L309.92,313.77 L310.52,313.91 L311.20,313.86 L311.94,313.66 L312.71,313.39 L313.46,313.17 L314.16,313.07 L314.78,313.17 L315.29,313.48 L315.72,314.01 L316.08,314.68 L316.41,315.43 L316.75,316.14 L317.15,316.73 L317.63,317.13 L318.21,317.31 L318.87,317.28 L319.61,317.10 L320.38,316.84 L321.14,316.60 L321.85,316.48 L322.48,316.54 L323.01,316.83 L323.45,317.32 L323.81,317.98 L324.15,318.72 L324.48,319.44 L324.94,320.06 L325.43,320.47 L326.01,320.65 L326.66,320.60 L327.38,320.39 L328.12,320.09 L328.87,319.79 L329.58,319.60 L330.22,319.59 L330.78,319.80 L331.26,320.24 L331.68,320.85 L332.06,321.56 L332.44,322.27 L332.86,322.88 L333.34,323.32 L333.90,323.53 L334.55,323.52 L335.25,323.33 L336.00,323.03 L336.75,322.73 L337.46,322.52 L338.12,322.48 L338.69,322.65 L339.19,323.06 L339.61,323.64 L340.00,324.34 L340.38,325.06 L340.78,325.69 L341.25,326.16 L341.80,326.41 L342.43,326.43 L343.13,326.26 L343.87,325.98 L344.63,325.67 L345.35,325.44 L346.01,325.37 L346.60,325.51 L347.11,325.88 L347.54,326.44 L347.93,327.13 L348.31,327.85 L348.71,328.50" fill="none" stroke="#68bcf0" stroke-width="1.0" stroke-linecap="round" stroke-dasharray="0.01 1.4"/>
<ellipse cx="120.7" cy="305" rx="8.6" ry="2.3" transform="rotate(26 120.7 305)" fill="url(#gOr)"/>
<ellipse cx="152.3" cy="317.6" rx="8.4" ry="2.3" transform="rotate(24 152.3 317.6)" fill="url(#gOr)"/>
<ellipse cx="225.4" cy="303.7" rx="7.6" ry="2.3" transform="rotate(22 225.4 303.7)" fill="url(#gOr)"/>
<ellipse cx="257.5" cy="318.7" rx="6.8" ry="2.3" transform="rotate(24 257.5 318.7)" fill="url(#gOr)"/>
<ellipse cx="293.6" cy="304.8" rx="8" ry="2.4" transform="rotate(28 293.6 304.8)" fill="url(#gOr)"/>
<rect x="80.7" y="262.7" width="3.2" height="31" fill="#1b8a78"/>
<rect x="83.8" y="262.7" width="2.8" height="31" fill="#d08a2a"/>
<circle cx="83.6" cy="262.5" r="1.1" fill="#6a7aa0"/>
<path d="M73.3,297.3 A10,8 0 1 0 93.2,297.3 A10,8 0 0 0 88.5,289.8 A4.8,4.5 0 0 1 78,289.8 A10,8 0 0 0 73.3,297.3Z" fill="url(#gMag)"/>
<ellipse cx="85.4" cy="316.5" rx="7.9" ry="12.6" transform="rotate(-20 85.4 316.5)" fill="url(#gOr)"/>
<path d="M136.3,258.7 Q137.5,262.5 140.2,265.5 M146.8,259.3 Q144,262.5 141.2,265.5" fill="none" stroke="#c030c0" stroke-width="1.9" stroke-linecap="round"/>
<path d="M140.7,264.5 L139.3,295.5" fill="none" stroke="#a828b0" stroke-width="3.3"/>
<path d="M140.7,264.5 L139.3,295.5" fill="none" stroke="#d050d8" stroke-width="1.2"/>
<clipPath id="cpCat"><circle cx="136.9" cy="300.4" r="6.4"/></clipPath>
<circle cx="136.9" cy="300.4" r="6.4" fill="url(#gGrn)"/>
<circle cx="142.6" cy="300.6" r="5" fill="#a8b838" clip-path="url(#cpCat)"/>
<circle cx="244.4" cy="304" r="3.9" fill="url(#gPur)"/>
<circle cx="310.8" cy="304.4" r="3.9" fill="url(#gPur)"/>
<path d="M212.1,300 Q231,288 251,304.6" fill="none" stroke="#e818e0" stroke-width="2.2"/>
<path d="M269.3,300.4 Q293,288 320.8,307.2" fill="none" stroke="#e818e0" stroke-width="2.2"/>
<path d="M375,292.6 Q395,284 423,303.4" fill="none" stroke="#e818e0" stroke-width="2.2"/>
<ellipse cx="318" cy="317.8" rx="10.2" ry="11.2" fill="url(#gCing)"/>
<path d="M330,305.6 A8.7,11.6 0 0 1 330,328.8 C327,328.8 324.5,327.5 322.8,325.5 L321.6,318.5 L327.2,313.2 L322.6,308.4 C324.5,306.5 327.5,305.6 330,305.6Z" fill="url(#gPara)"/>
<path d="M226,260 L228.8,265.5 M230.8,259.4 L232,265 L233.6,259.4 M238.2,260 L235.4,265.5" fill="none" stroke="#2b6090" stroke-width="1.9" stroke-linecap="round"/>
<rect x="225.2" y="265.6" width="13" height="25.4" rx="5.2" ry="6" fill="#2b6090"/>
<path d="M228.5,289.5 L234.5,297 M235.5,289.5 L229.5,297" stroke="#2b6090" stroke-width="1.8"/>
<path d="M226.5,269.5 L237,269.5" stroke="#3f78aa" stroke-width="0.7" stroke-dasharray="1.2 0.8"/>
<path d="M226.5,273.5 L237,273.5" stroke="#3f78aa" stroke-width="0.7" stroke-dasharray="1.2 0.8"/>
<path d="M226.5,277.5 L237,277.5" stroke="#3f78aa" stroke-width="0.7" stroke-dasharray="1.2 0.8"/>
<path d="M226.5,281.5 L237,281.5" stroke="#3f78aa" stroke-width="0.7" stroke-dasharray="1.2 0.8"/>
<path d="M226.5,285.5 L237,285.5" stroke="#3f78aa" stroke-width="0.7" stroke-dasharray="1.2 0.8"/>
<circle cx="234.2" cy="277.8" r="1.1" fill="#f04090"/>
<circle cx="228.8" cy="277.6" r="0.8" fill="#6a9ac8"/>
<path d="M277,262.2 L282.2,269 M283.8,262.2 L278.4,269" fill="none" stroke="#d0a418" stroke-width="1.8" stroke-linecap="round"/>
<path d="M278.4,267.4 C281,267.4 282,270 281.8,274 L281.4,286 C281.2,289.5 280,291 278,291 C275.6,291 274.5,289.5 274.6,286 L275,274 C275.1,270 276,267.4 278.4,267.4Z" fill="#d0a418"/>
<path d="M275.2,289.5 L280.8,296.2 M280.2,289.5 L274.8,296.2" stroke="#d0a418" stroke-width="1.5"/>
<ellipse cx="277.6" cy="280.2" rx="1.6" ry="1.2" fill="#fff"/>
<path d="M291.4,261.8 L295,267.5 L298,261.6" fill="none" stroke="#1ca42a" stroke-width="2" stroke-linecap="round" stroke-linejoin="round"/>
<path d="M295.8,266.5 C299.2,266.5 300.3,269.5 300.2,274 L299.8,288 C299.7,292 298.5,294.2 296.4,294.2 C294,294.2 292.8,292 292.8,288 L292.6,274 C292.5,269.5 293,266.5 295.8,266.5Z" fill="#1ca42a"/>
<ellipse cx="296.3" cy="280.8" rx="1.7" ry="1.4" fill="#fbe8f8"/>
<ellipse cx="358.8" cy="266.2" rx="2.9" ry="5.6" fill="url(#gLg)" stroke="#2a8a3a" stroke-width="0.4"/>
<ellipse cx="355.2" cy="294.3" rx="2.9" ry="5.6" fill="url(#gLg)" stroke="#2a8a3a" stroke-width="0.4"/>
<circle cx="358.7" cy="274.6" r="1.9" fill="#f04a40"/>
<circle cx="358.7" cy="279.5" r="1.9" fill="#2050d0"/>
<circle cx="358.7" cy="284.2" r="1.9" fill="#f04a40"/>
<circle cx="354.7" cy="277.6" r="1.9" fill="#f04a40"/>
<circle cx="354.7" cy="282.6" r="1.9" fill="#2050d0"/>
<circle cx="354.7" cy="287.4" r="1.9" fill="#f04a40"/>
<circle cx="402.3" cy="265.4" r="4" fill="url(#gLg)" stroke="#2a8a3a" stroke-width="0.4"/>
<circle cx="399.4" cy="284.8" r="4" fill="url(#gLg)" stroke="#2a8a3a" stroke-width="0.4"/>
<ellipse cx="398.6" cy="271.8" rx="2.6" ry="1.8" fill="#f04a40"/>
<ellipse cx="404.2" cy="271.8" rx="2.6" ry="1.8" fill="#f04a40"/>
<ellipse cx="398.6" cy="275.4" rx="2.6" ry="1.8" fill="#2050d0"/>
<ellipse cx="404.2" cy="275.4" rx="2.6" ry="1.8" fill="#2050d0"/>
<ellipse cx="398.6" cy="279" rx="2.6" ry="1.8" fill="#f04a40"/>
<ellipse cx="404.2" cy="279" rx="2.6" ry="1.8" fill="#f04a40"/>
<path d="M387.4,303.6 C387.4,298.5 393.5,294.3 400.5,294.3 C407,294.3 412.6,298.6 414.2,304.2 C414.8,306.6 412,309 408.5,311.4 C405.5,313.4 403.2,315 401.4,314.9 C398.6,314.4 393,310.8 389.4,307.6 C388,306.4 387.4,305 387.4,303.6Z" fill="url(#gTuba)"/>
<path d="M457.6,257.4 L463.6,266.5 M465.8,257.4 L459.6,266.5" fill="none" stroke="#8e2290" stroke-width="1.9" stroke-linecap="round"/>
<path d="M461.6,263.5 C464,263.5 465.2,266 465.2,270 L465.2,286 C465.2,290 464,292.5 461.6,292.5 C459.2,292.5 458.1,290 458.1,286 L458.1,270 C458.1,266 459.2,263.5 461.6,263.5Z" fill="#8e2290"/>
<path d="M459.2,291 L464.8,297.6 M464.2,291 L458.6,297.6" stroke="#8e2290" stroke-width="1.8"/>
<ellipse cx="461.6" cy="277.9" rx="1.4" ry="1.1" fill="#fff"/>
<path d="M460,296.4 C463.5,296 466.4,298 466.5,302 C466.7,309 466.4,316 465.8,320.5 C465.3,323 463.8,324.3 462,324.2 C460,324 457.5,322.4 455,323.2 C452.5,324 449.5,323.8 448.2,322.5 C447,321 447,318.5 447.6,315.5 C448.8,308.5 451.5,302 455,298.5 C456.5,297 458.2,296.5 460,296.4Z" fill="url(#gMagi)" stroke="#c88000" stroke-width="0.4"/>
<path d="M494.2,269 C495.2,267.2 501.8,267.2 502.8,269 C503.2,271 501.6,272.5 501.2,274 L501.2,279 C502.6,280 502.6,282.5 501.2,283.5 L501.2,288.5 C501.6,290 503.2,291.5 502.8,293.8 C501.8,295.8 495.2,295.8 494.2,293.8 C493.8,291.5 495.4,290 495.8,288.5 L495.8,283.5 C494.4,282.5 494.4,280 495.8,279 L495.8,274 C495.4,272.5 493.8,271 494.2,269Z" fill="#1a62f0"/>
<text x="58.5" y="249.7" class="gr">Desmocolin</text>
<text x="26.4" y="306.6" class="gr">Desmoplakin</text>
<text x="57.5" y="332.1" class="gr">Karetin</text>
<text x="127.2" y="253.2" class="gr">E-cadherin</text>
<text x="149" y="297.8" class="gr">a-catenin</text>
<text x="149.4" y="305.5" class="gr">ß-catenin</text>
<text x="208.2" y="254.8" class="gr">JAM-A</text>
<text x="246.4" y="298.8" class="gr">ZO-3</text>
<text x="205.6" y="315.5" class="gr">Myosin</text>
<text x="253.2" y="258.2" class="gr">Occludins</text>
<text x="296.5" y="257.6" class="gr">Claudins</text>
<text x="339.8" y="257.2" class="gr">MarvelD3</text>
<text x="318.8" y="337.9" class="gr">Cingulin</text>
<text x="318.8" y="347.0" class="gr">Paracingulin</text>
<text x="388.9" y="251.3" class="gr">Tricellulin</text>
<text x="414.7" y="321.5" class="gr">Tuba</text>
<text x="450.9" y="253.4" class="gr">JAM4</text>
<text x="448.9" y="336" class="gr">MAGI-1</text>
<text x="481.2" y="260" class="gr">Connexins</text>
<text x="58.5" y="259.2" class="gy" style="font-weight:bold;font-size:7.55px">Desmoglein</text>
<text x="270.3" y="336" class="gy">F-actin</text>
<text x="420.8" y="296" class="gy" style="font-size:7px">ZO-1</text>
<defs><linearGradient id="vir" x1="0" y1="0" x2="0" y2="1">
<stop offset="0" stop-color="#440154"/><stop offset="0.13" stop-color="#482878"/><stop offset="0.25" stop-color="#3e4989"/>
<stop offset="0.38" stop-color="#31688e"/><stop offset="0.5" stop-color="#26828e"/><stop offset="0.63" stop-color="#1f9e89"/>
<stop offset="0.75" stop-color="#35b779"/><stop offset="0.88" stop-color="#6ece58"/><stop offset="1" stop-color="#fde725"/></linearGradient></defs>
<text x="4.5" y="368.2" class="lab">D</text>
<text x="22.9" y="352.3" class="hd" style="font-size:8px">Inner cell</text>
<rect x="99.23" y="356.65" width="18.27" height="7.50" fill="#440154" stroke="#333" stroke-width="0.45"/>
<text x="36.6" y="360.40" class="gl" style="font-size:7.1px" text-anchor="end" dominant-baseline="central">cgnb</text>
<rect x="107.55" y="365.18" width="9.95" height="7.50" fill="#440154" stroke="#333" stroke-width="0.45"/>
<text x="36.6" y="368.93" class="gl" style="font-size:7.1px" text-anchor="end" dominant-baseline="central">cgnl1</text>
<rect x="91.07" y="373.71" width="26.43" height="7.50" fill="#433e85" stroke="#333" stroke-width="0.45"/>
<text x="36.6" y="377.46" class="gl" style="font-size:7.1px" text-anchor="end" dominant-baseline="central">cnst</text>
<rect x="43.25" y="382.24" width="74.25" height="7.50" fill="#440154" stroke="#333" stroke-width="0.45"/>
<text x="36.6" y="385.99" class="gl" style="font-size:7.1px" text-anchor="end" dominant-baseline="central">jam4</text>
<rect x="108.00" y="390.77" width="9.50" height="7.50" fill="#26828e" stroke="#333" stroke-width="0.45"/>
<text x="36.6" y="394.52" class="gl" style="font-size:7.1px" text-anchor="end" dominant-baseline="central">JAM-Aa</text>
<rect x="96.56" y="399.30" width="20.94" height="7.50" fill="#472d7b" stroke="#333" stroke-width="0.45"/>
<text x="36.6" y="403.05" class="gl" style="font-size:7.1px" text-anchor="end" dominant-baseline="central">JAM-Ab</text>
<rect x="107.11" y="407.83" width="10.39" height="7.50" fill="#3b528b" stroke="#333" stroke-width="0.45"/>
<text x="36.6" y="411.58" class="gl" style="font-size:7.1px" text-anchor="end" dominant-baseline="central">marvelD2</text>
<rect x="107.11" y="416.36" width="10.39" height="7.50" fill="#482173" stroke="#333" stroke-width="0.45"/>
<text x="36.6" y="420.11" class="gl" style="font-size:7.1px" text-anchor="end" dominant-baseline="central">marvelD3</text>
<rect x="111.11" y="424.89" width="6.39" height="7.50" fill="#26828e" stroke="#333" stroke-width="0.45"/>
<text x="36.6" y="428.64" class="gl" style="font-size:7.1px" text-anchor="end" dominant-baseline="central">myh10</text>
<rect x="73.25" y="433.42" width="44.25" height="7.50" fill="#440154" stroke="#333" stroke-width="0.45"/>
<text x="36.6" y="437.17" class="gl" style="font-size:7.1px" text-anchor="end" dominant-baseline="central">nrg1</text>
<rect x="99.23" y="441.95" width="18.27" height="7.50" fill="#440154" stroke="#333" stroke-width="0.45"/>
<text x="36.6" y="445.70" class="gl" style="font-size:7.1px" text-anchor="end" dominant-baseline="central">ocln</text>
<rect x="110.08" y="450.48" width="7.42" height="7.50" fill="#440154" stroke="#333" stroke-width="0.45"/>
<text x="36.6" y="454.23" class="gl" style="font-size:7.1px" text-anchor="end" dominant-baseline="central">tjp3c</text>
<rect x="109.18" y="459.01" width="8.32" height="7.50" fill="#440154" stroke="#333" stroke-width="0.45"/>
<text x="36.6" y="462.76" class="gl" style="font-size:7.1px" text-anchor="end" dominant-baseline="central">tjp3a</text>
<rect x="108.74" y="467.54" width="8.76" height="7.50" fill="#440154" stroke="#333" stroke-width="0.45"/>
<text x="36.6" y="471.29" class="gl" style="font-size:7.1px" text-anchor="end" dominant-baseline="central">tjp3b</text>
<rect x="117.50" y="476.07" width="10.25" height="7.50" fill="#fde725" stroke="#333" stroke-width="0.45"/>
<text x="36.6" y="479.82" class="gl" style="font-size:7.1px" text-anchor="end" dominant-baseline="central">tuba1a</text>
<line x1="38.8" y1="355" x2="38.8" y2="484.3" stroke="#888" stroke-width="1"/>
<line x1="38.3" y1="484.3" x2="130.5" y2="484.3" stroke="#888" stroke-width="1"/>
<line x1="43.25" y1="484.3" x2="43.25" y2="485.90000000000003" stroke="#888" stroke-width="0.8"/>
<text x="43.25" y="490.60" class="gl" style="font-size:7.3px" text-anchor="middle" dominant-baseline="central">-5</text>
<line x1="58.10" y1="484.3" x2="58.10" y2="485.90000000000003" stroke="#888" stroke-width="0.8"/>
<text x="58.10" y="490.60" class="gl" style="font-size:7.3px" text-anchor="middle" dominant-baseline="central">-4</text>
<line x1="72.95" y1="484.3" x2="72.95" y2="485.90000000000003" stroke="#888" stroke-width="0.8"/>
<text x="72.95" y="490.60" class="gl" style="font-size:7.3px" text-anchor="middle" dominant-baseline="central">-3</text>
<line x1="87.80" y1="484.3" x2="87.80" y2="485.90000000000003" stroke="#888" stroke-width="0.8"/>
<text x="87.80" y="490.60" class="gl" style="font-size:7.3px" text-anchor="middle" dominant-baseline="central">-2</text>
<line x1="102.65" y1="484.3" x2="102.65" y2="485.90000000000003" stroke="#888" stroke-width="0.8"/>
<text x="102.65" y="490.60" class="gl" style="font-size:7.3px" text-anchor="middle" dominant-baseline="central">-1</text>
<line x1="117.50" y1="484.3" x2="117.50" y2="485.90000000000003" stroke="#888" stroke-width="0.8"/>
<text x="117.50" y="490.60" class="gl" style="font-size:7.3px" text-anchor="middle" dominant-baseline="central">0</text>
<text x="85.7" y="507.0" class="ax" style="font-size:8.7px" text-anchor="middle">log2(FC)</text>
<text x="138.9" y="400.4" class="ax">p Value</text>
<rect x="138.2" y="411.5" width="6.9" height="35" fill="url(#vir)"/>
<text x="149.6" y="417.7" class="lg" style="font-size:8.8px" dominant-baseline="central">0.00025</text>
<text x="149.6" y="424.5" class="lg" style="font-size:8.8px" dominant-baseline="central">0.00050</text>
<text x="149.6" y="431.3" class="lg" style="font-size:8.8px" dominant-baseline="central">0.00075</text>
<text x="149.6" y="438.5" class="lg" style="font-size:8.8px" dominant-baseline="central">0.00100</text>
<text x="149.6" y="445.5" class="lg" style="font-size:8.8px" dominant-baseline="central">0.00125</text>
<text x="184.4" y="368.6" class="lab">E</text>
<rect x="243.21" y="359.70" width="23.79" height="8.60" fill="#481a6c" stroke="#333" stroke-width="0.45"/>
<text x="212.8" y="364.00" class="gl" style="font-size:6.9px" text-anchor="end" dominant-baseline="central">dsc2</text>
<rect x="224.30" y="369.23" width="42.70" height="8.60" fill="#440154" stroke="#333" stroke-width="0.45"/>
<text x="212.8" y="373.53" class="gl" style="font-size:6.9px" text-anchor="end" dominant-baseline="central">dsg2a</text>
<rect x="234.06" y="378.76" width="32.94" height="8.60" fill="#2fb47c" stroke="#333" stroke-width="0.45"/>
<text x="212.8" y="383.06" class="gl" style="font-size:6.9px" text-anchor="end" dominant-baseline="central">dsg2b</text>
<rect x="229.18" y="388.29" width="37.82" height="8.60" fill="#440154" stroke="#333" stroke-width="0.45"/>
<text x="212.8" y="392.59" class="gl" style="font-size:6.9px" text-anchor="end" dominant-baseline="central">dsp</text>
<rect x="243.21" y="397.82" width="23.79" height="8.60" fill="#46c06f" stroke="#333" stroke-width="0.45"/>
<text x="212.8" y="402.12" class="gl" style="font-size:6.9px" text-anchor="end" dominant-baseline="central">fat2</text>
<rect x="267.00" y="407.35" width="42.94" height="8.60" fill="#48186a" stroke="#333" stroke-width="0.45"/>
<text x="212.8" y="411.65" class="gl" style="font-size:6.9px" text-anchor="end" dominant-baseline="central">pcdh16a</text>
<rect x="267.00" y="416.88" width="20.74" height="8.60" fill="#fde725" stroke="#333" stroke-width="0.45"/>
<text x="212.8" y="421.18" class="gl" style="font-size:6.9px" text-anchor="end" dominant-baseline="central">pcdh16b</text>
<rect x="241.38" y="426.41" width="25.62" height="8.60" fill="#21908d" stroke="#333" stroke-width="0.45"/>
<text x="212.8" y="430.71" class="gl" style="font-size:6.9px" text-anchor="end" dominant-baseline="central">pcdh20a</text>
<rect x="220.64" y="435.94" width="46.36" height="8.60" fill="#433e85" stroke="#333" stroke-width="0.45"/>
<text x="212.8" y="440.24" class="gl" style="font-size:6.9px" text-anchor="end" dominant-baseline="central">pcdh20b</text>
<rect x="219.42" y="445.47" width="47.58" height="8.60" fill="#440154" stroke="#333" stroke-width="0.45"/>
<text x="212.8" y="449.77" class="gl" style="font-size:6.9px" text-anchor="end" dominant-baseline="central">cdh26a</text>
<rect x="245.04" y="455.00" width="21.96" height="8.60" fill="#482173" stroke="#333" stroke-width="0.45"/>
<text x="212.8" y="459.30" class="gl" style="font-size:6.9px" text-anchor="end" dominant-baseline="central">cdh26b</text>
<rect x="240.77" y="464.53" width="26.23" height="8.60" fill="#440154" stroke="#333" stroke-width="0.45"/>
<text x="212.8" y="468.83" class="gl" style="font-size:6.9px" text-anchor="end" dominant-baseline="central">cx31</text>
<rect x="231.62" y="474.06" width="35.38" height="8.60" fill="#2bb07f" stroke="#333" stroke-width="0.45"/>
<text x="212.8" y="478.36" class="gl" style="font-size:6.9px" text-anchor="end" dominant-baseline="central">cx33.8</text>
<line x1="214.9" y1="357" x2="214.9" y2="484.2" stroke="#888" stroke-width="1"/>
<line x1="214.4" y1="484.2" x2="312.3" y2="484.2" stroke="#888" stroke-width="1"/>
<line x1="218.20" y1="484.2" x2="218.20" y2="485.8" stroke="#888" stroke-width="0.8"/>
<text x="218.20" y="490.50" class="gl" style="font-size:7.3px" text-anchor="middle" dominant-baseline="central">-4</text>
<line x1="242.60" y1="484.2" x2="242.60" y2="485.8" stroke="#888" stroke-width="0.8"/>
<text x="242.60" y="490.50" class="gl" style="font-size:7.3px" text-anchor="middle" dominant-baseline="central">-2</text>
<line x1="267.00" y1="484.2" x2="267.00" y2="485.8" stroke="#888" stroke-width="0.8"/>
<text x="267.00" y="490.50" class="gl" style="font-size:7.3px" text-anchor="middle" dominant-baseline="central">0</text>
<line x1="291.40" y1="484.2" x2="291.40" y2="485.8" stroke="#888" stroke-width="0.8"/>
<text x="291.40" y="490.50" class="gl" style="font-size:7.3px" text-anchor="middle" dominant-baseline="central">2</text>
<text x="264" y="507.0" class="ax" style="font-size:8.55px" text-anchor="middle">log2(FC)</text>
<text x="320.2" y="402.4" class="ax">p Value</text>
<rect x="319.9" y="413.3" width="6" height="33.9" fill="url(#vir)"/>
<text x="330.8" y="422.1" class="lg" style="font-size:8.5px" dominant-baseline="central">0.0005</text>
<text x="330.8" y="430.9" class="lg" style="font-size:8.5px" dominant-baseline="central">0.0010</text>
<text x="330.8" y="439.6" class="lg" style="font-size:8.5px" dominant-baseline="central">0.0015</text>
<text x="360.6" y="371.6" class="lab">F</text>
<rect x="403.78" y="356.10" width="66.72" height="9.60" fill="#440154" stroke="#333" stroke-width="0.45"/>
<text x="398.2" y="360.90" class="gl" style="font-size:7.6px" text-anchor="end" dominant-baseline="central">lama3a</text>
<rect x="421.44" y="366.75" width="49.06" height="9.60" fill="#440154" stroke="#333" stroke-width="0.45"/>
<text x="398.2" y="371.55" class="gl" style="font-size:7.6px" text-anchor="end" dominant-baseline="central">lamc2a</text>
<rect x="421.88" y="377.40" width="48.62" height="9.60" fill="#440154" stroke="#333" stroke-width="0.45"/>
<text x="398.2" y="382.20" class="gl" style="font-size:7.6px" text-anchor="end" dominant-baseline="central">lamc2b</text>
<rect x="426.85" y="388.05" width="43.65" height="9.60" fill="#440154" stroke="#333" stroke-width="0.45"/>
<text x="398.2" y="392.85" class="gl" style="font-size:7.6px" text-anchor="end" dominant-baseline="central">lama3b</text>
<rect x="438.96" y="398.70" width="31.54" height="9.60" fill="#440154" stroke="#333" stroke-width="0.45"/>
<text x="398.2" y="403.50" class="gl" style="font-size:7.6px" text-anchor="end" dominant-baseline="central">lamb3</text>
<rect x="436.04" y="409.35" width="34.46" height="9.60" fill="#fde725" stroke="#333" stroke-width="0.45"/>
<text x="398.2" y="414.15" class="gl" style="font-size:7.6px" text-anchor="end" dominant-baseline="central">mibp</text>
<rect x="442.03" y="420.00" width="28.47" height="9.60" fill="#3b528b" stroke="#333" stroke-width="0.45"/>
<text x="398.2" y="424.80" class="gl" style="font-size:7.6px" text-anchor="end" dominant-baseline="central">itga6</text>
<rect x="444.22" y="430.65" width="26.28" height="9.60" fill="#48206f" stroke="#333" stroke-width="0.45"/>
<text x="398.2" y="435.45" class="gl" style="font-size:7.6px" text-anchor="end" dominant-baseline="central">itgb7</text>
<rect x="470.50" y="441.30" width="27.01" height="9.60" fill="#fde725" stroke="#333" stroke-width="0.45"/>
<text x="398.2" y="446.10" class="gl" style="font-size:7.6px" text-anchor="end" dominant-baseline="central">itgb1</text>
<rect x="447.58" y="451.95" width="22.92" height="9.60" fill="#26828e" stroke="#333" stroke-width="0.45"/>
<text x="398.2" y="456.75" class="gl" style="font-size:7.6px" text-anchor="end" dominant-baseline="central">flna</text>
<rect x="443.49" y="462.60" width="27.01" height="9.60" fill="#22a884" stroke="#333" stroke-width="0.45"/>
<text x="398.2" y="467.40" class="gl" style="font-size:7.6px" text-anchor="end" dominant-baseline="central">col4a3bpa</text>
<rect x="437.36" y="473.25" width="33.14" height="9.60" fill="#440154" stroke="#333" stroke-width="0.45"/>
<text x="398.2" y="478.05" class="gl" style="font-size:7.6px" text-anchor="end" dominant-baseline="central">col4a4bpb</text>
<line x1="399.7" y1="355" x2="399.7" y2="484.1" stroke="#888" stroke-width="1"/>
<line x1="399.2" y1="484.1" x2="502.5" y2="484.1" stroke="#888" stroke-width="1"/>
<line x1="412.10" y1="484.1" x2="412.10" y2="485.70000000000005" stroke="#888" stroke-width="0.8"/>
<text x="412.10" y="490.40" class="gl" style="font-size:7.3px" text-anchor="middle" dominant-baseline="central">-4</text>
<line x1="441.30" y1="484.1" x2="441.30" y2="485.70000000000005" stroke="#888" stroke-width="0.8"/>
<text x="441.30" y="490.40" class="gl" style="font-size:7.3px" text-anchor="middle" dominant-baseline="central">-2</text>
<line x1="470.50" y1="484.1" x2="470.50" y2="485.70000000000005" stroke="#888" stroke-width="0.8"/>
<text x="470.50" y="490.40" class="gl" style="font-size:7.3px" text-anchor="middle" dominant-baseline="central">0</text>
<line x1="499.70" y1="484.1" x2="499.70" y2="485.70000000000005" stroke="#888" stroke-width="0.8"/>
<text x="499.70" y="490.40" class="gl" style="font-size:7.3px" text-anchor="middle" dominant-baseline="central">2</text>
<text x="451.4" y="507.0" class="ax" style="font-size:8.9px" text-anchor="middle">log2(FC)</text>
<text x="510.3" y="400.8" class="ax">p Value</text>
<rect x="509.7" y="411.5" width="6.8" height="34.8" fill="url(#vir)"/>
<text x="521.3" y="424.5" class="lg" style="font-size:9.1px" dominant-baseline="central">5e-04</text>
<text x="521.3" y="436.7" class="lg" style="font-size:9.1px" dominant-baseline="central">1e-03</text>
</svg></body></html>
